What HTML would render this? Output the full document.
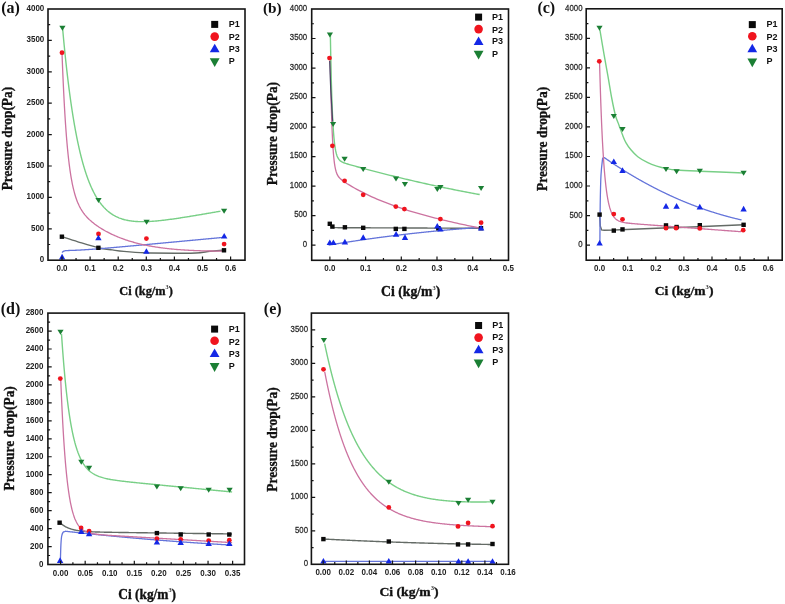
<!DOCTYPE html>
<html><head><meta charset="utf-8"><style>
html,body{margin:0;padding:0;background:#fff;}
svg{display:block;filter:blur(0.3px);}
.tl{font-family:"Liberation Sans",Arial,sans-serif;font-size:8.7px;font-weight:bold;fill:#222;}
.tlr{font-family:"Liberation Sans",Arial,sans-serif;font-size:8.5px;fill:#2a2a2a;stroke:#2a2a2a;stroke-width:0.25px;}
.lg{font-family:"Liberation Sans",Arial,sans-serif;font-size:9px;font-weight:bold;fill:#111;}
.pl{font-family:"Liberation Serif","Times New Roman",serif;font-size:15px;font-weight:bold;fill:#111;}
.al{font-family:"Liberation Serif","Times New Roman",serif;font-size:12.5px;font-weight:bold;fill:#111;stroke:#111;stroke-width:0.35px;}
.sup{font-size:6.5px;stroke-width:0;fill:#333;}
</style></head><body>
<svg width="785" height="604" viewBox="0 0 785 604">
<rect width="785" height="604" fill="#fff"/>
<g><path d="M61.90 236.70 C64.57 237.55 71.83 239.97 77.90 241.80 C83.97 243.63 92.57 246.35 98.30 247.70 C104.03 249.05 108.05 249.28 112.30 249.90 C116.55 250.52 118.35 250.92 123.80 251.40 C129.25 251.88 136.47 252.50 145.00 252.80 C153.53 253.10 166.50 253.17 175.00 253.20 C183.50 253.23 190.17 253.32 196.00 253.00 C201.83 252.68 205.67 251.75 210.00 251.30 C214.33 250.85 220.00 250.47 222.00 250.30" fill="none" stroke="#646b66" stroke-width="1.4"/><path d="M62.08 252.53 L62.35 252.19 L62.66 251.88 L63.00 251.60 L63.36 251.37 L63.76 251.17 L64.17 251.01 L64.59 250.89 L65.01 250.80 L65.44 250.73 L65.88 250.67 L66.31 250.63 L66.75 250.60 L67.19 250.57 L67.63 250.55 L68.06 250.53 L68.50 250.51 L68.94 250.49 L69.37 250.48 L69.81 250.47 L70.25 250.45 L70.69 250.44 L71.12 250.43 L71.56 250.41 L72.00 250.40 L72.44 250.38 L72.87 250.37 L73.31 250.35 L73.75 250.34 L74.19 250.32 L74.62 250.30 L75.06 250.28 L75.50 250.26 L75.94 250.25 L76.37 250.23 L76.81 250.21 L77.25 250.19 L77.68 250.17 L78.12 250.14 L78.56 250.12 L79.00 250.10 L79.43 250.08 L79.87 250.05 L80.31 250.03 L80.74 250.01 L81.18 249.98 L81.62 249.96 L82.06 249.93 L82.49 249.91 L82.93 249.88 L83.37 249.86 L83.80 249.83 L84.24 249.80 L84.68 249.77 L85.11 249.75 L85.55 249.72 L85.99 249.69 L86.42 249.66 L86.86 249.63 L87.30 249.61 L87.73 249.58 L88.17 249.55 L88.61 249.52 L89.04 249.49 L89.48 249.46 L89.92 249.43 L90.35 249.40 L90.79 249.36 L91.23 249.33 L91.66 249.30 L92.10 249.27 L92.54 249.24 L92.97 249.21 L93.41 249.17 L93.85 249.14 L94.28 249.11 L94.72 249.08 L95.16 249.04 L95.59 249.01 L96.03 248.98 L96.47 248.94 L96.90 248.91 L97.34 248.87 L97.77 248.84 L98.21 248.81 L98.65 248.77 L99.08 248.74 L99.52 248.70 L99.96 248.67 L100.39 248.63 L100.83 248.60 L101.26 248.56 L101.70 248.53 L102.14 248.49 L102.57 248.46 L103.01 248.42 L103.45 248.38 L103.88 248.35 L104.32 248.31 L104.75 248.28 L105.19 248.24 L105.63 248.20 L106.06 248.17 L106.50 248.13 L106.94 248.09 L107.37 248.06 L107.81 248.02 L108.24 247.98 L108.68 247.95 L109.12 247.91 L109.55 247.87 L109.99 247.83 L110.42 247.80 L110.86 247.76 L111.30 247.72 L111.73 247.68 L112.17 247.65 L112.60 247.61 L113.04 247.57 L113.48 247.53 L113.91 247.49 L114.35 247.46 L114.78 247.42 L115.22 247.38 L115.66 247.34 L116.09 247.30 L116.53 247.26 L116.96 247.23 L117.40 247.19 L117.84 247.15 L118.27 247.11 L118.71 247.07 L119.14 247.03 L119.58 246.99 L120.02 246.96 L120.45 246.92 L120.89 246.88 L121.32 246.84 L121.76 246.80 L122.20 246.76 L122.63 246.72 L123.07 246.68 L123.50 246.64 L123.94 246.60 L124.38 246.57 L124.81 246.53 L125.25 246.49 L125.68 246.45 L126.12 246.41 L126.56 246.37 L126.99 246.33 L127.43 246.29 L127.86 246.25 L128.30 246.21 L128.74 246.17 L129.17 246.13 L129.61 246.09 L130.04 246.05 L130.48 246.01 L130.91 245.97 L131.35 245.93 L131.79 245.89 L132.22 245.85 L132.66 245.82 L133.09 245.78 L133.53 245.74 L133.97 245.70 L134.40 245.66 L134.84 245.62 L135.27 245.58 L135.71 245.54 L136.15 245.50 L136.58 245.46 L137.02 245.42 L137.45 245.38 L137.89 245.34 L138.32 245.30 L138.76 245.26 L139.20 245.22 L139.63 245.18 L140.07 245.14 L140.50 245.10 L140.94 245.06 L141.38 245.02 L141.81 244.98 L142.25 244.94 L142.68 244.90 L143.12 244.86 L143.56 244.82 L143.99 244.77 L144.43 244.73 L144.86 244.69 L145.30 244.65 L145.73 244.61 L146.17 244.57 L146.61 244.53 L147.04 244.49 L147.48 244.45 L147.91 244.41 L148.35 244.37 L148.79 244.33 L149.22 244.29 L149.66 244.25 L150.09 244.21 L150.53 244.17 L150.96 244.13 L151.40 244.09 L151.84 244.05 L152.27 244.01 L152.71 243.97 L153.14 243.93 L153.58 243.89 L154.02 243.85 L154.45 243.81 L154.89 243.77 L155.32 243.73 L155.76 243.69 L156.19 243.65 L156.63 243.60 L157.07 243.56 L157.50 243.52 L157.94 243.48 L158.37 243.44 L158.81 243.40 L159.24 243.36 L159.68 243.32 L160.12 243.28 L160.55 243.24 L160.99 243.20 L161.42 243.16 L161.86 243.12 L162.30 243.08 L162.73 243.04 L163.17 243.00 L163.60 242.96 L164.04 242.92 L164.47 242.88 L164.91 242.83 L165.35 242.79 L165.78 242.75 L166.22 242.71 L166.65 242.67 L167.09 242.63 L167.53 242.59 L167.96 242.55 L168.40 242.51 L168.83 242.47 L169.27 242.43 L169.70 242.39 L170.14 242.35 L170.58 242.31 L171.01 242.27 L171.45 242.23 L171.88 242.18 L172.32 242.14 L172.75 242.10 L173.19 242.06 L173.63 242.02 L174.06 241.98 L174.50 241.94 L174.93 241.90 L175.37 241.86 L175.81 241.82 L176.24 241.78 L176.68 241.74 L177.11 241.70 L177.55 241.66 L177.98 241.62 L178.42 241.58 L178.86 241.53 L179.29 241.49 L179.73 241.45 L180.16 241.41 L180.60 241.37 L181.04 241.33 L181.47 241.29 L181.91 241.25 L182.34 241.21 L182.78 241.17 L183.21 241.13 L183.65 241.09 L184.09 241.05 L184.52 241.01 L184.96 240.97 L185.39 240.92 L185.83 240.88 L186.26 240.84 L186.70 240.80 L187.14 240.76 L187.57 240.72 L188.01 240.68 L188.44 240.64 L188.88 240.60 L189.32 240.56 L189.75 240.52 L190.19 240.48 L190.62 240.44 L191.06 240.40 L191.49 240.35 L191.93 240.31 L192.37 240.27 L192.80 240.23 L193.24 240.19 L193.67 240.15 L194.11 240.11 L194.54 240.07 L194.98 240.03 L195.42 239.99 L195.85 239.95 L196.29 239.91 L196.72 239.87 L197.16 239.83 L197.60 239.78 L198.03 239.74 L198.47 239.70 L198.90 239.66 L199.34 239.62 L199.77 239.58 L200.21 239.54 L200.65 239.50 L201.08 239.46 L201.52 239.42 L201.95 239.38 L202.39 239.34 L202.83 239.30 L203.26 239.26 L203.70 239.21 L204.13 239.17 L204.57 239.13 L205.00 239.09 L205.44 239.05 L205.88 239.01 L206.31 238.97 L206.75 238.93 L207.18 238.89 L207.62 238.85 L208.05 238.81 L208.49 238.77 L208.93 238.73 L209.36 238.69 L209.80 238.64 L210.23 238.60 L210.67 238.56 L211.11 238.52 L211.54 238.48 L211.98 238.44 L212.41 238.40 L212.85 238.36 L213.28 238.32 L213.72 238.28 L214.16 238.24 L214.59 238.20 L215.03 238.16 L215.46 238.12 L215.90 238.07 L216.33 238.03 L216.77 237.99 L217.21 237.95 L217.64 237.91 L218.08 237.87 L218.51 237.83 L218.95 237.79 L219.39 237.75 L219.82 237.71 L220.26 237.67 L220.69 237.63 L221.13 237.59 L221.56 237.55 L222.00 237.50" fill="none" stroke="#6474da" stroke-width="1.3"/><path d="M61.99 52.40 L62.02 53.45 L62.06 54.50 L62.10 55.55 L62.14 56.60 L62.18 57.64 L62.22 58.69 L62.26 59.74 L62.30 60.79 L62.34 61.84 L62.39 62.88 L62.43 63.93 L62.47 64.98 L62.51 66.03 L62.55 67.08 L62.60 68.13 L62.64 69.17 L62.68 70.22 L62.73 71.27 L62.77 72.32 L62.82 73.37 L62.86 74.41 L62.91 75.46 L62.95 76.51 L63.00 77.56 L63.04 78.60 L63.09 79.65 L63.14 80.70 L63.19 81.75 L63.23 82.80 L63.28 83.84 L63.33 84.89 L63.38 85.94 L63.43 86.99 L63.48 88.03 L63.53 89.08 L63.58 90.13 L63.63 91.18 L63.68 92.22 L63.74 93.27 L63.79 94.32 L63.84 95.37 L63.90 96.41 L63.95 97.46 L64.01 98.51 L64.06 99.56 L64.12 100.60 L64.17 101.65 L64.23 102.70 L64.29 103.75 L64.34 104.79 L64.40 105.84 L64.46 106.89 L64.52 107.94 L64.58 108.98 L64.64 110.03 L64.71 111.08 L64.77 112.12 L64.83 113.17 L64.90 114.22 L64.96 115.26 L65.02 116.31 L65.09 117.36 L65.16 118.40 L65.22 119.45 L65.29 120.50 L65.36 121.54 L65.43 122.59 L65.50 123.64 L65.57 124.68 L65.65 125.73 L65.72 126.78 L65.79 127.82 L65.87 128.87 L65.95 129.92 L66.02 130.96 L66.10 132.01 L66.18 133.05 L66.26 134.10 L66.34 135.14 L66.42 136.19 L66.51 137.24 L66.59 138.28 L66.68 139.33 L66.77 140.37 L66.86 141.42 L66.94 142.46 L67.04 143.51 L67.13 144.55 L67.22 145.60 L67.32 146.64 L67.42 147.69 L67.51 148.73 L67.62 149.77 L67.72 150.82 L67.82 151.86 L67.93 152.90 L68.03 153.95 L68.14 154.99 L68.25 156.03 L68.37 157.08 L68.48 158.12 L68.60 159.16 L68.72 160.20 L68.84 161.25 L68.97 162.29 L69.10 163.33 L69.22 164.37 L69.36 165.41 L69.49 166.45 L69.63 167.49 L69.77 168.53 L69.92 169.57 L70.06 170.61 L70.22 171.64 L70.37 172.68 L70.53 173.72 L70.69 174.75 L70.86 175.79 L71.03 176.82 L71.20 177.86 L71.38 178.89 L71.57 179.92 L71.76 180.96 L71.95 181.99 L72.16 183.02 L72.36 184.04 L72.58 185.07 L72.80 186.10 L73.02 187.12 L73.26 188.14 L73.50 189.16 L73.75 190.18 L74.01 191.20 L74.27 192.21 L74.55 193.23 L74.84 194.23 L75.13 195.24 L75.44 196.24 L75.76 197.24 L76.09 198.24 L76.44 199.23 L76.80 200.21 L77.17 201.19 L77.56 202.17 L77.97 203.13 L78.39 204.09 L78.83 205.05 L79.28 205.99 L79.76 206.93 L80.25 207.85 L80.76 208.77 L81.30 209.67 L81.85 210.56 L82.42 211.44 L83.02 212.31 L83.63 213.16 L84.26 213.99 L84.91 214.82 L85.58 215.62 L86.27 216.41 L86.98 217.19 L87.70 217.95 L88.44 218.70 L89.19 219.43 L89.96 220.14 L90.74 220.84 L91.53 221.53 L92.33 222.21 L93.14 222.87 L93.97 223.52 L94.80 224.15 L95.64 224.78 L96.50 225.39 L97.35 225.99 L98.22 226.58 L99.09 227.17 L99.97 227.74 L100.86 228.30 L101.75 228.85 L102.65 229.39 L103.56 229.92 L104.47 230.44 L105.38 230.95 L106.30 231.46 L107.23 231.95 L108.16 232.44 L109.09 232.91 L110.03 233.38 L110.97 233.84 L111.92 234.29 L112.87 234.74 L113.82 235.17 L114.78 235.60 L115.74 236.02 L116.71 236.43 L117.68 236.83 L118.65 237.23 L119.62 237.61 L120.60 237.99 L121.58 238.36 L122.57 238.73 L123.55 239.08 L124.54 239.43 L125.53 239.78 L126.53 240.11 L127.52 240.44 L128.52 240.76 L129.52 241.07 L130.53 241.38 L131.53 241.68 L132.54 241.97 L133.55 242.25 L134.56 242.53 L135.57 242.81 L136.59 243.07 L137.60 243.33 L138.62 243.59 L139.64 243.83 L140.66 244.08 L141.68 244.31 L142.71 244.54 L143.73 244.77 L144.76 244.99 L145.78 245.20 L146.81 245.41 L147.84 245.61 L148.87 245.81 L149.90 246.00 L150.93 246.19 L151.97 246.37 L153.00 246.55 L154.03 246.72 L155.07 246.89 L156.11 247.05 L157.14 247.21 L158.18 247.36 L159.22 247.51 L160.26 247.66 L161.30 247.80 L162.34 247.94 L163.38 248.07 L164.42 248.20 L165.46 248.33 L166.50 248.45 L167.54 248.57 L168.59 248.68 L169.63 248.79 L170.67 248.90 L171.72 249.00 L172.76 249.10 L173.80 249.20 L174.85 249.30 L175.89 249.39 L176.94 249.48 L177.98 249.56 L179.03 249.64 L180.08 249.72 L181.12 249.80 L182.17 249.87 L183.21 249.94 L184.26 250.01 L185.31 250.07 L186.36 250.14 L187.40 250.20 L188.45 250.26 L189.50 250.31 L190.54 250.36 L191.59 250.42 L192.64 250.46 L193.69 250.51 L194.74 250.56 L195.78 250.60 L196.83 250.64 L197.88 250.68 L198.93 250.71 L199.98 250.75 L201.03 250.78 L202.07 250.81 L203.12 250.84 L204.17 250.87 L205.22 250.89 L206.27 250.91 L207.32 250.94 L208.37 250.96 L209.41 250.98 L210.46 250.99 L211.51 251.01 L212.56 251.02 L213.61 251.04 L214.66 251.05 L215.71 251.06 L216.76 251.07 L217.80 251.07 L218.85 251.08 L219.90 251.08 L220.95 251.09 L222.00 251.09" fill="none" stroke="#cc73a0" stroke-width="1.3"/><path d="M62.53 27.58 L62.61 28.45 L62.68 29.31 L62.76 30.18 L62.84 31.05 L62.92 31.92 L63.00 32.79 L63.08 33.66 L63.16 34.53 L63.24 35.40 L63.32 36.26 L63.40 37.13 L63.48 38.00 L63.56 38.87 L63.65 39.74 L63.73 40.61 L63.81 41.47 L63.89 42.34 L63.98 43.21 L64.06 44.08 L64.15 44.95 L64.23 45.82 L64.32 46.68 L64.40 47.55 L64.49 48.42 L64.57 49.29 L64.66 50.16 L64.75 51.02 L64.84 51.89 L64.93 52.76 L65.01 53.63 L65.10 54.49 L65.19 55.36 L65.28 56.23 L65.37 57.10 L65.46 57.97 L65.56 58.83 L65.65 59.70 L65.74 60.57 L65.83 61.43 L65.93 62.30 L66.02 63.17 L66.12 64.04 L66.21 64.90 L66.31 65.77 L66.40 66.64 L66.50 67.50 L66.60 68.37 L66.69 69.24 L66.79 70.11 L66.89 70.97 L66.99 71.84 L67.09 72.70 L67.19 73.57 L67.29 74.44 L67.39 75.30 L67.49 76.17 L67.60 77.04 L67.70 77.90 L67.80 78.77 L67.91 79.64 L68.01 80.50 L68.12 81.37 L68.23 82.23 L68.33 83.10 L68.44 83.96 L68.55 84.83 L68.66 85.69 L68.77 86.56 L68.88 87.43 L68.99 88.29 L69.10 89.16 L69.21 90.02 L69.33 90.89 L69.44 91.75 L69.55 92.62 L69.67 93.48 L69.79 94.34 L69.90 95.21 L70.02 96.07 L70.14 96.94 L70.26 97.80 L70.38 98.67 L70.50 99.53 L70.62 100.39 L70.74 101.26 L70.86 102.12 L70.99 102.98 L71.11 103.85 L71.24 104.71 L71.37 105.57 L71.49 106.44 L71.62 107.30 L71.75 108.16 L71.88 109.02 L72.01 109.89 L72.14 110.75 L72.28 111.61 L72.41 112.47 L72.55 113.33 L72.68 114.20 L72.82 115.06 L72.96 115.92 L73.10 116.78 L73.24 117.64 L73.38 118.50 L73.52 119.36 L73.66 120.22 L73.81 121.08 L73.95 121.94 L74.10 122.80 L74.25 123.66 L74.40 124.52 L74.55 125.38 L74.70 126.24 L74.85 127.10 L75.01 127.96 L75.16 128.82 L75.32 129.67 L75.48 130.53 L75.64 131.39 L75.80 132.25 L75.96 133.10 L76.13 133.96 L76.29 134.82 L76.46 135.67 L76.63 136.53 L76.80 137.38 L76.97 138.24 L77.14 139.09 L77.32 139.95 L77.49 140.80 L77.67 141.66 L77.85 142.51 L78.03 143.36 L78.22 144.22 L78.40 145.07 L78.59 145.92 L78.78 146.77 L78.97 147.62 L79.16 148.48 L79.35 149.33 L79.55 150.18 L79.75 151.02 L79.95 151.87 L80.15 152.72 L80.36 153.57 L80.57 154.42 L80.78 155.26 L80.99 156.11 L81.20 156.96 L81.42 157.80 L81.64 158.64 L81.86 159.49 L82.08 160.33 L82.31 161.17 L82.54 162.02 L82.77 162.86 L83.01 163.70 L83.25 164.53 L83.49 165.37 L83.73 166.21 L83.98 167.05 L84.23 167.88 L84.48 168.72 L84.74 169.55 L85.00 170.38 L85.26 171.22 L85.53 172.05 L85.80 172.87 L86.08 173.70 L86.35 174.53 L86.64 175.35 L86.92 176.18 L87.21 177.00 L87.51 177.82 L87.81 178.64 L88.11 179.46 L88.42 180.27 L88.73 181.09 L89.05 181.90 L89.37 182.71 L89.70 183.52 L90.04 184.33 L90.37 185.13 L90.72 185.93 L91.07 186.73 L91.42 187.53 L91.79 188.32 L92.15 189.11 L92.53 189.90 L92.91 190.68 L93.30 191.47 L93.69 192.24 L94.09 193.02 L94.50 193.79 L94.92 194.55 L95.34 195.32 L95.77 196.08 L96.21 196.83 L96.66 197.58 L97.12 198.32 L97.58 199.06 L98.06 199.79 L98.54 200.51 L99.04 201.23 L99.54 201.95 L100.05 202.65 L100.58 203.35 L101.11 204.04 L101.65 204.72 L102.21 205.39 L102.78 206.06 L103.35 206.71 L103.94 207.36 L104.54 207.99 L105.15 208.61 L105.77 209.23 L106.41 209.82 L107.05 210.41 L107.71 210.99 L108.38 211.55 L109.05 212.09 L109.75 212.63 L110.45 213.14 L111.16 213.65 L111.88 214.13 L112.62 214.61 L113.36 215.06 L114.12 215.50 L114.88 215.92 L115.65 216.33 L116.43 216.72 L117.22 217.09 L118.02 217.45 L118.82 217.79 L119.63 218.11 L120.45 218.41 L121.27 218.70 L122.10 218.98 L122.93 219.23 L123.77 219.47 L124.61 219.70 L125.46 219.91 L126.31 220.11 L127.16 220.29 L128.02 220.46 L128.87 220.62 L129.74 220.76 L130.60 220.90 L131.46 221.01 L132.33 221.12 L133.19 221.22 L134.06 221.31 L134.93 221.38 L135.80 221.45 L136.67 221.50 L137.54 221.55 L138.41 221.59 L139.29 221.62 L140.16 221.64 L141.03 221.66 L141.90 221.66 L142.77 221.66 L143.65 221.66 L144.52 221.64 L145.39 221.63 L146.26 221.60 L147.13 221.57 L148.01 221.53 L148.88 221.49 L149.75 221.45 L150.62 221.40 L151.49 221.34 L152.36 221.28 L153.23 221.22 L154.10 221.15 L154.97 221.08 L155.84 221.00 L156.71 220.93 L157.58 220.84 L158.44 220.76 L159.31 220.67 L160.18 220.58 L161.05 220.49 L161.91 220.39 L162.78 220.29 L163.65 220.19 L164.51 220.09 L165.38 219.99 L166.24 219.88 L167.11 219.77 L167.97 219.66 L168.84 219.54 L169.70 219.43 L170.57 219.31 L171.43 219.20 L172.30 219.08 L173.16 218.95 L174.02 218.83 L174.89 218.71 L175.75 218.58 L176.61 218.46 L177.48 218.33 L178.34 218.20 L179.20 218.07 L180.07 217.94 L180.93 217.81 L181.79 217.68 L182.65 217.54 L183.51 217.41 L184.38 217.27 L185.24 217.14 L186.10 217.00 L186.96 216.86 L187.82 216.73 L188.68 216.59 L189.54 216.45 L190.40 216.31 L191.27 216.17 L192.13 216.03 L192.99 215.89 L193.85 215.74 L194.71 215.60 L195.57 215.46 L196.43 215.31 L197.29 215.17 L198.15 215.03 L199.01 214.88 L199.87 214.74 L200.73 214.59 L201.59 214.44 L202.45 214.30 L203.31 214.15 L204.17 214.01 L205.03 213.86 L205.89 213.71 L206.75 213.56 L207.61 213.42 L208.47 213.27 L209.33 213.12 L210.19 212.97 L211.05 212.82 L211.91 212.67 L212.77 212.52 L213.63 212.37 L214.49 212.23 L215.34 212.08 L216.20 211.93 L217.06 211.78 L217.92 211.63 L218.78 211.48 L219.64 211.33 L220.50 211.17" fill="none" stroke="#78cf86" stroke-width="1.4"/><rect x="59.70" y="234.50" width="4.40" height="4.40" fill="#0a0a0a"/><rect x="96.20" y="245.60" width="4.40" height="4.40" fill="#0a0a0a"/><rect x="221.80" y="248.10" width="4.40" height="4.40" fill="#0a0a0a"/><circle cx="62.00" cy="52.70" r="2.40" fill="#f0141e"/><circle cx="98.50" cy="233.90" r="2.40" fill="#f0141e"/><circle cx="146.40" cy="238.60" r="2.40" fill="#f0141e"/><circle cx="224.10" cy="244.10" r="2.40" fill="#f0141e"/><polygon points="62.10,253.80 58.90,259.40 65.30,259.40" fill="#1428e6"/><polygon points="98.40,234.70 95.20,240.30 101.60,240.30" fill="#1428e6"/><polygon points="146.40,248.20 143.20,253.80 149.60,253.80" fill="#1428e6"/><polygon points="224.20,232.90 221.00,238.50 227.40,238.50" fill="#1428e6"/><polygon points="59.30,25.70 65.50,25.70 62.40,30.70" fill="#1b7f34"/><polygon points="95.40,198.00 101.60,198.00 98.50,203.00" fill="#1b7f34"/><polygon points="143.50,219.70 149.70,219.70 146.60,224.70" fill="#1b7f34"/><polygon points="221.00,208.70 227.20,208.70 224.10,213.70" fill="#1b7f34"/><rect x="48.00" y="9.00" width="197.00" height="251.20" fill="none" stroke="#151515" stroke-width="1.6"/><path d="M48.00 228.80h3.8M48.00 197.40h3.8M48.00 166.00h3.8M48.00 134.60h3.8M48.00 103.20h3.8M48.00 71.80h3.8M48.00 40.40h3.8M48.00 244.50h2.2M48.00 213.10h2.2M48.00 181.70h2.2M48.00 150.30h2.2M48.00 118.90h2.2M48.00 87.50h2.2M48.00 56.10h2.2M48.00 24.70h2.2M62.00 260.20v-3.8M90.10 260.20v-3.8M118.20 260.20v-3.8M146.30 260.20v-3.8M174.40 260.20v-3.8M202.50 260.20v-3.8M230.60 260.20v-3.8M76.05 260.20v-2.2M104.15 260.20v-2.2M132.25 260.20v-2.2M160.35 260.20v-2.2M188.45 260.20v-2.2M216.55 260.20v-2.2" stroke="#151515" stroke-width="1.2" fill="none"/><text transform="translate(44.30 262.20) scale(0.92 1)" class="tl" text-anchor="end">0</text><text transform="translate(44.30 230.80) scale(0.92 1)" class="tl" text-anchor="end">500</text><text transform="translate(44.30 199.40) scale(0.92 1)" class="tl" text-anchor="end">1000</text><text transform="translate(44.30 168.00) scale(0.92 1)" class="tl" text-anchor="end">1500</text><text transform="translate(44.30 136.60) scale(0.92 1)" class="tl" text-anchor="end">2000</text><text transform="translate(44.30 105.20) scale(0.92 1)" class="tl" text-anchor="end">2500</text><text transform="translate(44.30 73.80) scale(0.92 1)" class="tl" text-anchor="end">3000</text><text transform="translate(44.30 42.40) scale(0.92 1)" class="tl" text-anchor="end">3500</text><text transform="translate(44.30 11.00) scale(0.92 1)" class="tl" text-anchor="end">4000</text><text transform="translate(62.00 271.20) scale(0.92 1)" class="tl" text-anchor="middle">0.0</text><text transform="translate(90.10 271.20) scale(0.92 1)" class="tl" text-anchor="middle">0.1</text><text transform="translate(118.20 271.20) scale(0.92 1)" class="tl" text-anchor="middle">0.2</text><text transform="translate(146.30 271.20) scale(0.92 1)" class="tl" text-anchor="middle">0.3</text><text transform="translate(174.40 271.20) scale(0.92 1)" class="tl" text-anchor="middle">0.4</text><text transform="translate(202.50 271.20) scale(0.92 1)" class="tl" text-anchor="middle">0.5</text><text transform="translate(230.60 271.20) scale(0.92 1)" class="tl" text-anchor="middle">0.6</text><text x="1.20" y="12.80" class="pl" style="font-size:16px">(a)</text><text transform="translate(12.40 138.60) rotate(-90)" class="al" style="font-size:14.5px" text-anchor="middle" textLength="103.5" lengthAdjust="spacingAndGlyphs">Pressure drop(Pa)</text><text x="119.30" y="295.40" class="al" style="font-size:13px" textLength="53.5" lengthAdjust="spacingAndGlyphs">Ci (kg/m<tspan class="sup" dy="-6.5">3</tspan><tspan dy="6.5">)</tspan></text><rect x="211.20" y="20.90" width="7.00" height="7.00" fill="#0a0a0a"/><text x="228.80" y="26.90" class="lg">P1</text><circle cx="214.70" cy="36.60" r="4.30" fill="#f0141e"/><text x="228.80" y="39.80" class="lg">P2</text><polygon points="214.70,43.80 209.80,52.20 219.60,52.20" fill="#1428e6"/><text x="228.80" y="51.70" class="lg">P3</text><polygon points="209.80,58.20 219.60,58.20 214.70,67.00" fill="#1b7f34"/><text x="228.80" y="64.40" class="lg">P</text></g>
<g><path d="M329.85 223.95 L330.01 224.41 L330.19 224.86 L330.40 225.30 L330.64 225.72 L330.92 226.12 L331.25 226.48 L331.62 226.79 L332.04 227.04 L332.49 227.23 L332.95 227.37 L333.43 227.47 L333.91 227.53 L334.39 227.58 L334.88 227.61 L335.37 227.63 L335.85 227.65 L336.34 227.66 L336.82 227.67 L337.31 227.67 L337.80 227.68 L338.28 227.68 L338.77 227.68 L339.25 227.69 L339.74 227.69 L340.23 227.69 L340.71 227.69 L341.20 227.70 L341.68 227.70 L342.17 227.70 L342.66 227.70 L343.14 227.71 L343.63 227.71 L344.11 227.71 L344.60 227.71 L345.09 227.71 L345.57 227.72 L346.06 227.72 L346.54 227.72 L347.03 227.72 L347.52 227.72 L348.00 227.73 L348.49 227.73 L348.97 227.73 L349.46 227.73 L349.95 227.74 L350.43 227.74 L350.92 227.74 L351.41 227.74 L351.89 227.74 L352.38 227.75 L352.86 227.75 L353.35 227.75 L353.84 227.75 L354.32 227.75 L354.81 227.76 L355.29 227.76 L355.78 227.76 L356.27 227.76 L356.75 227.76 L357.24 227.77 L357.72 227.77 L358.21 227.77 L358.70 227.77 L359.18 227.78 L359.67 227.78 L360.15 227.78 L360.64 227.78 L361.13 227.78 L361.61 227.79 L362.10 227.79 L362.58 227.79 L363.07 227.79 L363.56 227.79 L364.04 227.80 L364.53 227.80 L365.02 227.80 L365.50 227.80 L365.99 227.81 L366.47 227.81 L366.96 227.81 L367.45 227.81 L367.93 227.81 L368.42 227.82 L368.90 227.82 L369.39 227.82 L369.88 227.82 L370.36 227.82 L370.85 227.83 L371.33 227.83 L371.82 227.83 L372.31 227.83 L372.79 227.84 L373.28 227.84 L373.76 227.84 L374.25 227.84 L374.74 227.84 L375.22 227.85 L375.71 227.85 L376.19 227.85 L376.68 227.85 L377.17 227.85 L377.65 227.86 L378.14 227.86 L378.63 227.86 L379.11 227.86 L379.60 227.87 L380.08 227.87 L380.57 227.87 L381.06 227.87 L381.54 227.87 L382.03 227.88 L382.51 227.88 L383.00 227.88 L383.49 227.88 L383.97 227.88 L384.46 227.89 L384.94 227.89 L385.43 227.89 L385.92 227.89 L386.40 227.89 L386.89 227.90 L387.37 227.90 L387.86 227.90 L388.35 227.90 L388.83 227.91 L389.32 227.91 L389.80 227.91 L390.29 227.91 L390.78 227.91 L391.26 227.92 L391.75 227.92 L392.24 227.92 L392.72 227.92 L393.21 227.92 L393.69 227.93 L394.18 227.93 L394.67 227.93 L395.15 227.93 L395.64 227.94 L396.12 227.94 L396.61 227.94 L397.10 227.94 L397.58 227.94 L398.07 227.95 L398.55 227.95 L399.04 227.95 L399.53 227.95 L400.01 227.95 L400.50 227.96 L400.98 227.96 L401.47 227.96 L401.96 227.96 L402.44 227.97 L402.93 227.97 L403.41 227.97 L403.90 227.97 L404.39 227.97 L404.87 227.98 L405.36 227.98 L405.85 227.98 L406.33 227.98 L406.82 227.98 L407.30 227.99 L407.79 227.99 L408.28 227.99 L408.76 227.99 L409.25 228.00 L409.73 228.00 L410.22 228.00 L410.71 228.00 L411.19 228.00 L411.68 228.01 L412.16 228.01 L412.65 228.01 L413.14 228.01 L413.62 228.01 L414.11 228.02 L414.59 228.02 L415.08 228.02 L415.57 228.02 L416.05 228.03 L416.54 228.03 L417.02 228.03 L417.51 228.03 L418.00 228.03 L418.48 228.04 L418.97 228.04 L419.46 228.04 L419.94 228.04 L420.43 228.04 L420.91 228.05 L421.40 228.05 L421.89 228.05 L422.37 228.05 L422.86 228.05 L423.34 228.06 L423.83 228.06 L424.32 228.06 L424.80 228.06 L425.29 228.07 L425.77 228.07 L426.26 228.07 L426.75 228.07 L427.23 228.07 L427.72 228.08 L428.20 228.08 L428.69 228.08 L429.18 228.08 L429.66 228.08 L430.15 228.09 L430.63 228.09 L431.12 228.09 L431.61 228.09 L432.09 228.10 L432.58 228.10 L433.07 228.10 L433.55 228.10 L434.04 228.10 L434.52 228.11 L435.01 228.11 L435.50 228.11 L435.98 228.11 L436.47 228.11 L436.95 228.12 L437.44 228.12 L437.93 228.12 L438.41 228.12 L438.90 228.13 L439.38 228.13 L439.87 228.13 L440.36 228.13 L440.84 228.13 L441.33 228.14 L441.81 228.14 L442.30 228.14 L442.79 228.14 L443.27 228.14 L443.76 228.15 L444.24 228.15 L444.73 228.15 L445.22 228.15 L445.70 228.16 L446.19 228.16 L446.68 228.16 L447.16 228.16 L447.65 228.16 L448.13 228.17 L448.62 228.17 L449.11 228.17 L449.59 228.17 L450.08 228.17 L450.56 228.18 L451.05 228.18 L451.54 228.18 L452.02 228.18 L452.51 228.19 L452.99 228.19 L453.48 228.19 L453.97 228.19 L454.45 228.19 L454.94 228.20 L455.42 228.20 L455.91 228.20 L456.40 228.20 L456.88 228.20 L457.37 228.21 L457.85 228.21 L458.34 228.21 L458.83 228.21 L459.31 228.21 L459.80 228.22 L460.29 228.22 L460.77 228.22 L461.26 228.22 L461.74 228.23 L462.23 228.23 L462.72 228.23 L463.20 228.23 L463.69 228.23 L464.17 228.24 L464.66 228.24 L465.15 228.24 L465.63 228.24 L466.12 228.24 L466.60 228.25 L467.09 228.25 L467.58 228.25 L468.06 228.25 L468.55 228.26 L469.03 228.26 L469.52 228.26 L470.01 228.26 L470.49 228.26 L470.98 228.27 L471.46 228.27 L471.95 228.27 L472.44 228.27 L472.92 228.27 L473.41 228.28 L473.90 228.28 L474.38 228.28 L474.87 228.28 L475.35 228.29 L475.84 228.29 L476.33 228.29 L476.81 228.29 L477.30 228.29 L477.78 228.30 L478.27 228.30 L478.76 228.30 L479.24 228.30 L479.73 228.30 L480.21 228.31 L480.70 228.31" fill="none" stroke="#646b66" stroke-width="1.4"/><path d="M328.59 245.15 L328.98 245.08 L329.36 245.02 L329.75 244.95 L330.14 244.89 L330.52 244.82 L330.91 244.76 L331.30 244.69 L331.68 244.63 L332.07 244.57 L332.46 244.50 L332.84 244.44 L333.23 244.37 L333.62 244.31 L334.00 244.25 L334.39 244.18 L334.78 244.12 L335.16 244.06 L335.55 243.99 L335.94 243.93 L336.32 243.87 L336.71 243.81 L337.10 243.74 L337.48 243.68 L337.87 243.62 L338.26 243.56 L338.64 243.49 L339.03 243.43 L339.42 243.37 L339.80 243.31 L340.19 243.24 L340.58 243.18 L340.96 243.12 L341.35 243.06 L341.74 243.00 L342.13 242.94 L342.51 242.87 L342.90 242.81 L343.29 242.75 L343.67 242.69 L344.06 242.63 L344.45 242.57 L344.84 242.51 L345.22 242.45 L345.61 242.39 L346.00 242.33 L346.38 242.27 L346.77 242.21 L347.16 242.15 L347.55 242.09 L347.93 242.03 L348.32 241.97 L348.71 241.91 L349.09 241.85 L349.48 241.79 L349.87 241.73 L350.26 241.67 L350.64 241.61 L351.03 241.55 L351.42 241.49 L351.81 241.43 L352.19 241.37 L352.58 241.32 L352.97 241.26 L353.36 241.20 L353.74 241.14 L354.13 241.08 L354.52 241.02 L354.91 240.97 L355.29 240.91 L355.68 240.85 L356.07 240.79 L356.46 240.73 L356.84 240.68 L357.23 240.62 L357.62 240.56 L358.01 240.50 L358.39 240.45 L358.78 240.39 L359.17 240.33 L359.56 240.28 L359.94 240.22 L360.33 240.16 L360.72 240.11 L361.11 240.05 L361.49 239.99 L361.88 239.94 L362.27 239.88 L362.66 239.82 L363.05 239.77 L363.43 239.71 L363.82 239.66 L364.21 239.60 L364.60 239.54 L364.99 239.49 L365.37 239.43 L365.76 239.38 L366.15 239.32 L366.54 239.27 L366.92 239.21 L367.31 239.16 L367.70 239.10 L368.09 239.05 L368.48 238.99 L368.86 238.94 L369.25 238.88 L369.64 238.83 L370.03 238.78 L370.42 238.72 L370.80 238.67 L371.19 238.61 L371.58 238.56 L371.97 238.51 L372.36 238.45 L372.75 238.40 L373.13 238.35 L373.52 238.29 L373.91 238.24 L374.30 238.19 L374.69 238.13 L375.07 238.08 L375.46 238.03 L375.85 237.97 L376.24 237.92 L376.63 237.87 L377.02 237.82 L377.40 237.76 L377.79 237.71 L378.18 237.66 L378.57 237.61 L378.96 237.56 L379.35 237.50 L379.73 237.45 L380.12 237.40 L380.51 237.35 L380.90 237.30 L381.29 237.25 L381.68 237.20 L382.07 237.14 L382.45 237.09 L382.84 237.04 L383.23 236.99 L383.62 236.94 L384.01 236.89 L384.40 236.84 L384.79 236.79 L385.17 236.74 L385.56 236.69 L385.95 236.64 L386.34 236.59 L386.73 236.54 L387.12 236.49 L387.51 236.44 L387.89 236.39 L388.28 236.34 L388.67 236.29 L389.06 236.24 L389.45 236.19 L389.84 236.14 L390.23 236.09 L390.62 236.04 L391.00 236.00 L391.39 235.95 L391.78 235.90 L392.17 235.85 L392.56 235.80 L392.95 235.75 L393.34 235.70 L393.73 235.66 L394.11 235.61 L394.50 235.56 L394.89 235.51 L395.28 235.46 L395.67 235.42 L396.06 235.37 L396.45 235.32 L396.84 235.27 L397.23 235.23 L397.61 235.18 L398.00 235.13 L398.39 235.09 L398.78 235.04 L399.17 234.99 L399.56 234.95 L399.95 234.90 L400.34 234.85 L400.73 234.81 L401.12 234.76 L401.51 234.71 L401.89 234.67 L402.28 234.62 L402.67 234.58 L403.06 234.53 L403.45 234.48 L403.84 234.44 L404.23 234.39 L404.62 234.35 L405.01 234.30 L405.40 234.26 L405.79 234.21 L406.18 234.17 L406.56 234.12 L406.95 234.08 L407.34 234.03 L407.73 233.99 L408.12 233.94 L408.51 233.90 L408.90 233.85 L409.29 233.81 L409.68 233.77 L410.07 233.72 L410.46 233.68 L410.85 233.63 L411.24 233.59 L411.63 233.55 L412.02 233.50 L412.40 233.46 L412.79 233.42 L413.18 233.37 L413.57 233.33 L413.96 233.29 L414.35 233.25 L414.74 233.20 L415.13 233.16 L415.52 233.12 L415.91 233.07 L416.30 233.03 L416.69 232.99 L417.08 232.95 L417.47 232.91 L417.86 232.86 L418.25 232.82 L418.64 232.78 L419.03 232.74 L419.42 232.70 L419.81 232.65 L420.20 232.61 L420.59 232.57 L420.97 232.53 L421.36 232.49 L421.75 232.45 L422.14 232.41 L422.53 232.37 L422.92 232.33 L423.31 232.29 L423.70 232.25 L424.09 232.20 L424.48 232.16 L424.87 232.12 L425.26 232.08 L425.65 232.04 L426.04 232.00 L426.43 231.96 L426.82 231.92 L427.21 231.88 L427.60 231.85 L427.99 231.81 L428.38 231.77 L428.77 231.73 L429.16 231.69 L429.55 231.65 L429.94 231.61 L430.33 231.57 L430.72 231.53 L431.11 231.49 L431.50 231.46 L431.89 231.42 L432.28 231.38 L432.67 231.34 L433.06 231.30 L433.45 231.26 L433.84 231.23 L434.23 231.19 L434.62 231.15 L435.01 231.11 L435.40 231.08 L435.79 231.04 L436.18 231.00 L436.57 230.96 L436.96 230.93 L437.35 230.89 L437.74 230.85 L438.13 230.82 L438.52 230.78 L438.91 230.74 L439.30 230.71 L439.69 230.67 L440.08 230.63 L440.47 230.60 L440.86 230.56 L441.25 230.52 L441.64 230.49 L442.03 230.45 L442.42 230.42 L442.81 230.38 L443.20 230.34 L443.59 230.31 L443.98 230.27 L444.37 230.24 L444.76 230.20 L445.15 230.17 L445.54 230.13 L445.93 230.10 L446.32 230.06 L446.71 230.03 L447.10 229.99 L447.49 229.96 L447.88 229.93 L448.28 229.89 L448.67 229.86 L449.06 229.82 L449.45 229.79 L449.84 229.75 L450.23 229.72 L450.62 229.69 L451.01 229.65 L451.40 229.62 L451.79 229.59 L452.18 229.55 L452.57 229.52 L452.96 229.49 L453.35 229.45 L453.74 229.42 L454.13 229.39 L454.52 229.36 L454.91 229.32 L455.30 229.29 L455.69 229.26 L456.08 229.23 L456.47 229.19 L456.86 229.16 L457.26 229.13 L457.65 229.10 L458.04 229.07 L458.43 229.03 L458.82 229.00 L459.21 228.97 L459.60 228.94 L459.99 228.91 L460.38 228.88 L460.77 228.85 L461.16 228.81 L461.55 228.78 L461.94 228.75 L462.33 228.72 L462.72 228.69 L463.11 228.66 L463.50 228.63 L463.90 228.60 L464.29 228.57 L464.68 228.54 L465.07 228.51 L465.46 228.48 L465.85 228.45 L466.24 228.42 L466.63 228.39 L467.02 228.36 L467.41 228.33 L467.80 228.30 L468.19 228.27 L468.58 228.24 L468.97 228.21 L469.37 228.18 L469.76 228.16 L470.15 228.13 L470.54 228.10 L470.93 228.07 L471.32 228.04 L471.71 228.01 L472.10 227.98 L472.49 227.96 L472.88 227.93 L473.27 227.90 L473.66 227.87 L474.05 227.84 L474.45 227.82 L474.84 227.79 L475.23 227.76 L475.62 227.73 L476.01 227.71 L476.40 227.68 L476.79 227.65 L477.18 227.62 L477.57 227.60 L477.96 227.57 L478.35 227.54 L478.75 227.52 L479.14 227.49 L479.53 227.46 L479.92 227.44 L480.31 227.41 L480.70 227.39" fill="none" stroke="#6474da" stroke-width="1.3"/><path d="M330.35 57.77 L330.39 60.56 L330.44 63.35 L330.48 66.14 L330.53 68.92 L330.58 71.71 L330.63 74.50 L330.68 77.28 L330.74 80.07 L330.79 82.86 L330.85 85.65 L330.91 88.44 L330.97 91.22 L331.03 94.01 L331.09 96.80 L331.16 99.59 L331.23 102.37 L331.30 105.16 L331.37 107.95 L331.45 110.73 L331.53 113.52 L331.62 116.31 L331.71 119.09 L331.80 121.88 L331.90 124.67 L332.00 127.45 L332.11 130.24 L332.23 133.02 L332.36 135.81 L332.49 138.59 L332.63 141.38 L332.79 144.16 L332.96 146.95 L333.15 149.73 L333.35 152.51 L333.58 155.29 L333.85 158.06 L334.15 160.83 L334.50 163.60 L334.93 166.35 L335.47 169.09 L336.18 171.78 L337.16 174.39 L338.55 176.80 L340.41 178.88 L342.57 180.63 L344.87 182.22 L347.21 183.72 L349.59 185.17 L351.99 186.59 L354.41 187.98 L356.85 189.33 L359.31 190.65 L361.78 191.94 L364.27 193.20 L366.77 194.42 L369.29 195.62 L371.82 196.79 L374.36 197.93 L376.92 199.04 L379.49 200.13 L382.07 201.19 L384.66 202.22 L387.26 203.23 L389.86 204.22 L392.48 205.18 L395.10 206.13 L397.74 207.05 L400.38 207.94 L403.02 208.82 L405.67 209.68 L408.33 210.52 L411.00 211.35 L413.67 212.15 L416.34 212.94 L419.02 213.72 L421.70 214.47 L424.39 215.22 L427.08 215.95 L429.77 216.66 L432.47 217.37 L435.17 218.06 L437.88 218.74 L440.58 219.41 L443.29 220.06 L446.01 220.71 L448.72 221.35 L451.44 221.97 L454.16 222.59 L456.88 223.20 L459.60 223.80 L462.32 224.40 L465.05 224.98 L467.78 225.56 L470.51 226.14 L473.24 226.70 L475.97 227.26 L478.70 227.81" fill="none" stroke="#cc73a0" stroke-width="1.3"/><path d="M330.36 34.60 L330.39 36.60 L330.42 38.59 L330.46 40.58 L330.49 42.58 L330.53 44.57 L330.57 46.57 L330.60 48.56 L330.64 50.56 L330.68 52.55 L330.72 54.55 L330.76 56.54 L330.80 58.54 L330.84 60.53 L330.89 62.53 L330.93 64.52 L330.97 66.52 L331.02 68.51 L331.06 70.50 L331.11 72.50 L331.16 74.50 L331.21 76.49 L331.26 78.48 L331.31 80.48 L331.37 82.47 L331.42 84.47 L331.48 86.46 L331.53 88.45 L331.59 90.45 L331.65 92.44 L331.72 94.44 L331.78 96.43 L331.85 98.43 L331.92 100.42 L331.99 102.41 L332.06 104.41 L332.14 106.40 L332.22 108.39 L332.30 110.39 L332.38 112.38 L332.47 114.37 L332.57 116.37 L332.66 118.36 L332.77 120.35 L332.87 122.34 L332.99 124.33 L333.10 126.33 L333.23 128.32 L333.36 130.31 L333.51 132.30 L333.66 134.29 L333.82 136.28 L334.00 138.26 L334.19 140.25 L334.41 142.23 L334.64 144.21 L334.91 146.19 L335.20 148.16 L335.55 150.13 L335.95 152.08 L336.44 154.02 L337.05 155.91 L337.84 157.74 L338.90 159.43 L340.29 160.86 L341.96 161.94 L343.79 162.75 L345.67 163.40 L347.58 163.99 L349.49 164.56 L351.41 165.10 L353.33 165.64 L355.25 166.18 L357.17 166.71 L359.10 167.24 L361.02 167.76 L362.95 168.29 L364.87 168.81 L366.80 169.32 L368.73 169.84 L370.66 170.35 L372.59 170.86 L374.52 171.36 L376.45 171.87 L378.38 172.37 L380.31 172.86 L382.24 173.36 L384.18 173.85 L386.11 174.34 L388.05 174.83 L389.98 175.31 L391.92 175.79 L393.85 176.27 L395.79 176.74 L397.73 177.22 L399.67 177.69 L401.61 178.15 L403.55 178.62 L405.49 179.08 L407.43 179.54 L409.38 179.99 L411.32 180.44 L413.26 180.89 L415.21 181.34 L417.15 181.79 L419.10 182.23 L421.04 182.67 L422.99 183.10 L424.94 183.54 L426.89 183.97 L428.83 184.40 L430.78 184.82 L432.73 185.24 L434.68 185.66 L436.63 186.08 L438.59 186.49 L440.54 186.90 L442.49 187.31 L444.44 187.72 L446.40 188.12 L448.35 188.52 L450.31 188.92 L452.26 189.31 L454.22 189.71 L456.18 190.10 L458.13 190.48 L460.09 190.87 L462.05 191.25 L464.01 191.62 L465.97 192.00 L467.93 192.37 L469.89 192.74 L471.85 193.11 L473.81 193.47 L475.77 193.84 L477.74 194.19 L479.70 194.55" fill="none" stroke="#78cf86" stroke-width="1.4"/><path d="M329.70 61.00 C329.85 65.00 330.27 77.57 330.60 85.00 C330.93 92.43 331.37 99.52 331.70 105.60 C332.03 111.68 332.45 118.85 332.60 121.50" fill="none" stroke="#4d4466" stroke-width="1.3"/><rect x="327.60" y="221.60" width="4.40" height="4.40" fill="#0a0a0a"/><rect x="330.20" y="224.40" width="4.40" height="4.40" fill="#0a0a0a"/><rect x="342.70" y="225.10" width="4.40" height="4.40" fill="#0a0a0a"/><rect x="361.00" y="225.60" width="4.40" height="4.40" fill="#0a0a0a"/><rect x="393.60" y="226.70" width="4.40" height="4.40" fill="#0a0a0a"/><rect x="402.20" y="226.70" width="4.40" height="4.40" fill="#0a0a0a"/><rect x="436.10" y="226.00" width="4.40" height="4.40" fill="#0a0a0a"/><rect x="478.80" y="226.00" width="4.40" height="4.40" fill="#0a0a0a"/><circle cx="329.50" cy="58.10" r="2.40" fill="#f0141e"/><circle cx="332.40" cy="145.80" r="2.40" fill="#f0141e"/><circle cx="344.60" cy="180.80" r="2.40" fill="#f0141e"/><circle cx="363.20" cy="194.80" r="2.40" fill="#f0141e"/><circle cx="395.80" cy="206.60" r="2.40" fill="#f0141e"/><circle cx="404.40" cy="209.10" r="2.40" fill="#f0141e"/><circle cx="440.40" cy="219.10" r="2.40" fill="#f0141e"/><circle cx="481.10" cy="222.70" r="2.40" fill="#f0141e"/><polygon points="329.80,239.40 326.60,245.00 333.00,245.00" fill="#1428e6"/><polygon points="333.40,239.40 330.20,245.00 336.60,245.00" fill="#1428e6"/><polygon points="344.90,238.80 341.70,244.40 348.10,244.40" fill="#1428e6"/><polygon points="363.20,234.30 360.00,239.90 366.40,239.90" fill="#1428e6"/><polygon points="396.10,231.10 392.90,236.70 399.30,236.70" fill="#1428e6"/><polygon points="405.00,234.30 401.80,239.90 408.20,239.90" fill="#1428e6"/><polygon points="437.30,223.00 434.10,228.60 440.50,228.60" fill="#1428e6"/><polygon points="440.40,226.00 437.20,231.60 443.60,231.60" fill="#1428e6"/><polygon points="481.10,225.00 477.90,230.60 484.30,230.60" fill="#1428e6"/><polygon points="326.80,32.40 333.00,32.40 329.90,37.40" fill="#1b7f34"/><polygon points="330.00,122.10 336.20,122.10 333.10,127.10" fill="#1b7f34"/><polygon points="341.50,156.70 347.70,156.70 344.60,161.70" fill="#1b7f34"/><polygon points="360.10,167.10 366.30,167.10 363.20,172.10" fill="#1b7f34"/><polygon points="392.90,176.40 399.10,176.40 396.00,181.40" fill="#1b7f34"/><polygon points="401.80,182.10 408.00,182.10 404.90,187.10" fill="#1b7f34"/><polygon points="434.20,186.90 440.40,186.90 437.30,191.90" fill="#1b7f34"/><polygon points="437.30,184.90 443.50,184.90 440.40,189.90" fill="#1b7f34"/><polygon points="478.00,185.90 484.20,185.90 481.10,190.90" fill="#1b7f34"/><rect x="311.70" y="9.00" width="196.80" height="251.30" fill="none" stroke="#151515" stroke-width="1.6"/><path d="M311.70 245.20h3.8M311.70 215.67h3.8M311.70 186.15h3.8M311.70 156.62h3.8M311.70 127.10h3.8M311.70 97.57h3.8M311.70 68.05h3.8M311.70 38.52h3.8M311.70 230.44h2.2M311.70 200.91h2.2M311.70 171.39h2.2M311.70 141.86h2.2M311.70 112.34h2.2M311.70 82.81h2.2M311.70 53.29h2.2M311.70 23.76h2.2M329.90 260.30v-3.8M365.60 260.30v-3.8M401.30 260.30v-3.8M437.00 260.30v-3.8M472.70 260.30v-3.8M347.75 260.30v-2.2M383.45 260.30v-2.2M419.15 260.30v-2.2M454.85 260.30v-2.2M490.55 260.30v-2.2" stroke="#151515" stroke-width="1.2" fill="none"/><text transform="translate(307.20 246.70) scale(0.92 1)" class="tlr" text-anchor="end">0</text><text transform="translate(307.20 217.17) scale(0.92 1)" class="tlr" text-anchor="end">500</text><text transform="translate(307.20 187.65) scale(0.92 1)" class="tlr" text-anchor="end">1000</text><text transform="translate(307.20 158.12) scale(0.92 1)" class="tlr" text-anchor="end">1500</text><text transform="translate(307.20 128.60) scale(0.92 1)" class="tlr" text-anchor="end">2000</text><text transform="translate(307.20 99.07) scale(0.92 1)" class="tlr" text-anchor="end">2500</text><text transform="translate(307.20 69.55) scale(0.92 1)" class="tlr" text-anchor="end">3000</text><text transform="translate(307.20 40.02) scale(0.92 1)" class="tlr" text-anchor="end">3500</text><text transform="translate(307.20 10.50) scale(0.92 1)" class="tlr" text-anchor="end">4000</text><text transform="translate(329.90 271.30) scale(0.92 1)" class="tl" text-anchor="middle">0.0</text><text transform="translate(365.60 271.30) scale(0.92 1)" class="tl" text-anchor="middle">0.1</text><text transform="translate(401.30 271.30) scale(0.92 1)" class="tl" text-anchor="middle">0.2</text><text transform="translate(437.00 271.30) scale(0.92 1)" class="tl" text-anchor="middle">0.3</text><text transform="translate(472.70 271.30) scale(0.92 1)" class="tl" text-anchor="middle">0.4</text><text transform="translate(508.40 271.30) scale(0.92 1)" class="tl" text-anchor="middle">0.5</text><text x="262.90" y="12.80" class="pl" style="font-size:15.3px">(b)</text><text transform="translate(277.20 133.60) rotate(-90)" class="al" style="font-size:14.5px" text-anchor="middle" textLength="103.2" lengthAdjust="spacingAndGlyphs">Pressure drop(Pa)</text><text x="381.00" y="296.40" class="al" style="font-size:14px" textLength="59.3" lengthAdjust="spacingAndGlyphs">Ci (kg/m<tspan class="sup" dy="-6.5">3</tspan><tspan dy="6.5">)</tspan></text><rect x="475.10" y="13.60" width="7.00" height="7.00" fill="#0a0a0a"/><text x="492.00" y="20.40" class="lg">P1</text><circle cx="478.60" cy="29.10" r="4.30" fill="#f0141e"/><text x="492.00" y="32.80" class="lg">P2</text><polygon points="478.60,36.60 473.70,45.00 483.50,45.00" fill="#1428e6"/><text x="492.00" y="44.20" class="lg">P3</text><polygon points="473.70,50.70 483.50,50.70 478.60,59.50" fill="#1b7f34"/><text x="492.00" y="56.60" class="lg">P</text></g>
<g><path d="M599.60 214.60 L600.30 226.00 L601.60 229.90 L604.00 230.20 M604.00 230.20 L614.20 230.00 L656.60 228.20 L686.00 227.20 L743.60 224.80" fill="none" stroke="#646b66" stroke-width="1.4"/><path d="M599.90 242.40 C599.95 236.17 600.02 216.23 600.20 205.00 C600.38 193.77 600.58 182.90 601.00 175.00 C601.42 167.10 602.42 160.50 602.70 157.60 M603.45 157.04 L603.77 157.27 L604.10 157.49 L604.42 157.71 L604.74 157.94 L605.07 158.16 L605.39 158.38 L605.72 158.61 L606.04 158.83 L606.37 159.05 L606.69 159.27 L607.02 159.50 L607.34 159.72 L607.67 159.94 L607.99 160.16 L608.32 160.38 L608.65 160.60 L608.97 160.82 L609.30 161.04 L609.63 161.26 L609.95 161.48 L610.28 161.70 L610.61 161.92 L610.93 162.14 L611.26 162.36 L611.59 162.57 L611.92 162.79 L612.25 163.01 L612.57 163.23 L612.90 163.44 L613.23 163.66 L613.56 163.88 L613.89 164.09 L614.22 164.31 L614.55 164.52 L614.88 164.74 L615.21 164.95 L615.54 165.17 L615.87 165.38 L616.20 165.60 L616.53 165.81 L616.86 166.03 L617.19 166.24 L617.52 166.45 L617.85 166.67 L618.18 166.88 L618.51 167.09 L618.84 167.30 L619.18 167.52 L619.51 167.73 L619.84 167.94 L620.17 168.15 L620.51 168.36 L620.84 168.57 L621.17 168.78 L621.50 168.99 L621.84 169.20 L622.17 169.41 L622.50 169.62 L622.84 169.83 L623.17 170.04 L623.51 170.25 L623.84 170.45 L624.17 170.66 L624.51 170.87 L624.84 171.08 L625.18 171.28 L625.51 171.49 L625.85 171.70 L626.19 171.90 L626.52 172.11 L626.86 172.31 L627.19 172.52 L627.53 172.72 L627.87 172.93 L628.20 173.13 L628.54 173.34 L628.88 173.54 L629.21 173.74 L629.55 173.95 L629.89 174.15 L630.23 174.35 L630.56 174.55 L630.90 174.75 L631.24 174.96 L631.58 175.16 L631.92 175.36 L632.25 175.56 L632.59 175.76 L632.93 175.96 L633.27 176.16 L633.61 176.36 L633.95 176.56 L634.29 176.76 L634.63 176.96 L634.97 177.15 L635.31 177.35 L635.65 177.55 L635.99 177.75 L636.33 177.95 L636.67 178.14 L637.01 178.34 L637.36 178.53 L637.70 178.73 L638.04 178.93 L638.38 179.12 L638.72 179.32 L639.06 179.51 L639.41 179.71 L639.75 179.90 L640.09 180.09 L640.44 180.29 L640.78 180.48 L641.12 180.67 L641.47 180.87 L641.81 181.06 L642.15 181.25 L642.50 181.44 L642.84 181.63 L643.18 181.82 L643.53 182.01 L643.87 182.20 L644.22 182.40 L644.56 182.58 L644.91 182.77 L645.25 182.96 L645.60 183.15 L645.95 183.34 L646.29 183.53 L646.64 183.72 L646.98 183.90 L647.33 184.09 L647.68 184.28 L648.02 184.46 L648.37 184.65 L648.72 184.84 L649.06 185.02 L649.41 185.21 L649.76 185.39 L650.11 185.58 L650.45 185.76 L650.80 185.95 L651.15 186.13 L651.50 186.31 L651.85 186.49 L652.20 186.68 L652.55 186.86 L652.90 187.04 L653.24 187.22 L653.59 187.40 L653.94 187.59 L654.29 187.77 L654.64 187.95 L654.99 188.13 L655.34 188.31 L655.69 188.49 L656.04 188.66 L656.40 188.84 L656.75 189.02 L657.10 189.20 L657.45 189.38 L657.80 189.55 L658.15 189.73 L658.50 189.91 L658.86 190.08 L659.21 190.26 L659.56 190.44 L659.91 190.61 L660.27 190.79 L660.62 190.96 L660.97 191.13 L661.33 191.31 L661.68 191.48 L662.03 191.66 L662.39 191.83 L662.74 192.00 L663.09 192.17 L663.45 192.34 L663.80 192.52 L664.16 192.69 L664.51 192.86 L664.87 193.03 L665.22 193.20 L665.58 193.37 L665.93 193.54 L666.29 193.71 L666.64 193.88 L667.00 194.04 L667.36 194.21 L667.71 194.38 L668.07 194.55 L668.43 194.71 L668.78 194.88 L669.14 195.05 L669.50 195.21 L669.85 195.38 L670.21 195.54 L670.57 195.71 L670.93 195.87 L671.28 196.04 L671.64 196.20 L672.00 196.36 L672.36 196.53 L672.72 196.69 L673.08 196.85 L673.43 197.01 L673.79 197.17 L674.15 197.34 L674.51 197.50 L674.87 197.66 L675.23 197.82 L675.59 197.98 L675.95 198.14 L676.31 198.29 L676.67 198.45 L677.03 198.61 L677.39 198.77 L677.75 198.93 L678.11 199.08 L678.48 199.24 L678.84 199.40 L679.20 199.55 L679.56 199.71 L679.92 199.86 L680.28 200.02 L680.65 200.17 L681.01 200.33 L681.37 200.48 L681.73 200.63 L682.10 200.79 L682.46 200.94 L682.82 201.09 L683.19 201.24 L683.55 201.40 L683.91 201.55 L684.28 201.70 L684.64 201.85 L685.00 202.00 L685.37 202.15 L685.73 202.30 L686.10 202.45 L686.46 202.59 L686.83 202.74 L687.19 202.89 L687.56 203.04 L687.92 203.18 L688.29 203.33 L688.65 203.48 L689.02 203.62 L689.38 203.77 L689.75 203.91 L690.12 204.06 L690.48 204.20 L690.85 204.34 L691.22 204.49 L691.58 204.63 L691.95 204.77 L692.32 204.92 L692.68 205.06 L693.05 205.20 L693.42 205.34 L693.79 205.48 L694.16 205.62 L694.52 205.76 L694.89 205.90 L695.26 206.04 L695.63 206.18 L696.00 206.32 L696.37 206.45 L696.73 206.59 L697.10 206.73 L697.47 206.87 L697.84 207.00 L698.21 207.14 L698.58 207.27 L698.95 207.41 L699.32 207.54 L699.69 207.68 L700.06 207.81 L700.43 207.94 L700.80 208.08 L701.17 208.21 L701.54 208.34 L701.91 208.47 L702.29 208.61 L702.66 208.74 L703.03 208.87 L703.40 209.00 L703.77 209.13 L704.14 209.26 L704.52 209.39 L704.89 209.51 L705.26 209.64 L705.63 209.77 L706.00 209.90 L706.38 210.02 L706.75 210.15 L707.12 210.28 L707.50 210.40 L707.87 210.53 L708.24 210.65 L708.62 210.78 L708.99 210.90 L709.36 211.03 L709.74 211.15 L710.11 211.27 L710.49 211.39 L710.86 211.52 L711.24 211.64 L711.61 211.76 L711.98 211.88 L712.36 212.00 L712.73 212.12 L713.11 212.24 L713.48 212.36 L713.86 212.48 L714.24 212.59 L714.61 212.71 L714.99 212.83 L715.36 212.95 L715.74 213.06 L716.12 213.18 L716.49 213.29 L716.87 213.41 L717.24 213.52 L717.62 213.64 L718.00 213.75 L718.38 213.87 L718.75 213.98 L719.13 214.09 L719.51 214.20 L719.88 214.32 L720.26 214.43 L720.64 214.54 L721.02 214.65 L721.40 214.76 L721.77 214.87 L722.15 214.98 L722.53 215.09 L722.91 215.19 L723.29 215.30 L723.67 215.41 L724.05 215.52 L724.42 215.62 L724.80 215.73 L725.18 215.84 L725.56 215.94 L725.94 216.05 L726.32 216.15 L726.70 216.25 L727.08 216.36 L727.46 216.46 L727.84 216.56 L728.22 216.66 L728.60 216.77 L728.98 216.87 L729.36 216.97 L729.74 217.07 L730.12 217.17 L730.51 217.27 L730.89 217.37 L731.27 217.47 L731.65 217.56 L732.03 217.66 L732.41 217.76 L732.79 217.86 L733.17 217.95 L733.56 218.05 L733.94 218.14 L734.32 218.24 L734.70 218.33 L735.08 218.43 L735.47 218.52 L735.85 218.62 L736.23 218.71 L736.62 218.80 L737.00 218.89 L737.38 218.98 L737.76 219.08 L738.15 219.17 L738.53 219.26 L738.91 219.35 L739.30 219.44 L739.68 219.52 L740.06 219.61 L740.45 219.70 L740.83 219.79 L741.22 219.87 L741.60 219.96" fill="none" stroke="#6474da" stroke-width="1.3"/><path d="M599.54 61.19 L599.57 62.37 L599.60 63.55 L599.63 64.73 L599.66 65.91 L599.69 67.08 L599.73 68.26 L599.76 69.44 L599.79 70.62 L599.83 71.80 L599.86 72.98 L599.89 74.15 L599.93 75.33 L599.96 76.51 L600.00 77.69 L600.03 78.87 L600.07 80.04 L600.10 81.22 L600.14 82.40 L600.17 83.58 L600.21 84.76 L600.25 85.94 L600.28 87.11 L600.32 88.29 L600.36 89.47 L600.40 90.65 L600.43 91.83 L600.47 93.01 L600.51 94.18 L600.55 95.36 L600.59 96.54 L600.63 97.72 L600.67 98.90 L600.71 100.07 L600.75 101.25 L600.79 102.43 L600.84 103.61 L600.88 104.79 L600.92 105.96 L600.97 107.14 L601.01 108.32 L601.05 109.50 L601.10 110.68 L601.14 111.85 L601.19 113.03 L601.24 114.21 L601.28 115.39 L601.33 116.56 L601.38 117.74 L601.43 118.92 L601.47 120.10 L601.52 121.28 L601.57 122.45 L601.62 123.63 L601.67 124.81 L601.73 125.99 L601.78 127.16 L601.83 128.34 L601.89 129.52 L601.94 130.70 L602.00 131.87 L602.05 133.05 L602.11 134.23 L602.17 135.41 L602.22 136.58 L602.28 137.76 L602.34 138.94 L602.40 140.12 L602.46 141.29 L602.53 142.47 L602.59 143.65 L602.65 144.82 L602.72 146.00 L602.79 147.18 L602.85 148.35 L602.92 149.53 L602.99 150.71 L603.06 151.88 L603.13 153.06 L603.21 154.24 L603.28 155.41 L603.36 156.59 L603.43 157.77 L603.51 158.94 L603.59 160.12 L603.67 161.29 L603.76 162.47 L603.84 163.65 L603.93 164.82 L604.02 166.00 L604.11 167.17 L604.20 168.35 L604.29 169.52 L604.39 170.70 L604.49 171.87 L604.59 173.05 L604.69 174.22 L604.80 175.39 L604.90 176.57 L605.02 177.74 L605.13 178.92 L605.25 180.09 L605.37 181.26 L605.49 182.43 L605.62 183.61 L605.75 184.78 L605.88 185.95 L606.02 187.12 L606.17 188.29 L606.32 189.46 L606.47 190.63 L606.63 191.79 L606.80 192.96 L606.97 194.13 L607.15 195.29 L607.34 196.45 L607.54 197.62 L607.74 198.78 L607.96 199.94 L608.19 201.09 L608.42 202.25 L608.68 203.40 L608.94 204.55 L609.23 205.69 L609.53 206.83 L609.85 207.96 L610.20 209.09 L610.57 210.21 L610.98 211.32 L611.42 212.41 L611.90 213.49 L612.43 214.54 L613.01 215.56 L613.66 216.55 L614.37 217.49 L615.16 218.36 L616.02 219.16 L616.96 219.88 L617.96 220.50 L619.01 221.04 L620.10 221.48 L621.22 221.85 L622.36 222.16 L623.51 222.42 L624.66 222.64 L625.83 222.83 L627.00 222.99 L628.16 223.14 L629.34 223.27 L630.51 223.39 L631.68 223.51 L632.86 223.61 L634.03 223.71 L635.20 223.81 L636.38 223.91 L637.55 224.00 L638.73 224.09 L639.91 224.18 L641.08 224.28 L642.26 224.36 L643.43 224.45 L644.61 224.54 L645.78 224.63 L646.96 224.72 L648.13 224.81 L649.31 224.89 L650.48 224.98 L651.66 225.07 L652.84 225.16 L654.01 225.24 L655.19 225.33 L656.36 225.42 L657.54 225.51 L658.71 225.59 L659.89 225.68 L661.06 225.77 L662.24 225.86 L663.42 225.94 L664.59 226.03 L665.77 226.12 L666.94 226.21 L668.12 226.29 L669.29 226.38 L670.47 226.47 L671.64 226.55 L672.82 226.64 L673.99 226.73 L675.17 226.82 L676.35 226.90 L677.52 226.99 L678.70 227.08 L679.87 227.17 L681.05 227.25 L682.22 227.34 L683.40 227.43 L684.57 227.51 L685.75 227.60 L686.93 227.69 L688.10 227.78 L689.28 227.86 L690.45 227.95 L691.63 228.04 L692.80 228.13 L693.98 228.21 L695.15 228.30 L696.33 228.39 L697.51 228.48 L698.68 228.56 L699.86 228.65 L701.03 228.74 L702.21 228.82 L703.38 228.91 L704.56 229.00 L705.73 229.09 L706.91 229.17 L708.09 229.26 L709.26 229.35 L710.44 229.44 L711.61 229.52 L712.79 229.61 L713.96 229.70 L715.14 229.79 L716.31 229.87 L717.49 229.96 L718.66 230.05 L719.84 230.13 L721.02 230.22 L722.19 230.31 L723.37 230.40 L724.54 230.48 L725.72 230.57 L726.89 230.66 L728.07 230.75 L729.24 230.83 L730.42 230.92 L731.60 231.01 L732.77 231.10 L733.95 231.18 L735.12 231.27 L736.30 231.36 L737.47 231.44 L738.65 231.53 L739.82 231.62 L741.00 231.71" fill="none" stroke="#cc73a0" stroke-width="1.3"/><path d="M599.90 29.90 C600.57 33.87 602.57 46.05 603.90 53.70 C605.23 61.35 606.58 68.33 607.90 75.80 C609.22 83.27 610.52 91.80 611.80 98.50 C613.08 105.20 614.40 111.55 615.60 116.00 C616.80 120.45 617.87 122.10 619.00 125.20 C620.13 128.30 621.25 131.70 622.40 134.60 C623.55 137.50 624.48 140.07 625.90 142.60 C627.32 145.13 628.92 147.45 630.90 149.80 C632.88 152.15 634.98 154.55 637.80 156.70 C640.62 158.85 644.65 161.13 647.80 162.70 C650.95 164.27 653.57 165.12 656.70 166.10 C659.83 167.08 663.28 167.95 666.60 168.60 C669.92 169.25 671.07 169.57 676.60 170.00 C682.13 170.43 688.63 170.70 699.80 171.20 C710.97 171.70 736.30 172.70 743.60 173.00" fill="none" stroke="#78cf86" stroke-width="1.4"/><rect x="597.40" y="212.40" width="4.40" height="4.40" fill="#0a0a0a"/><rect x="611.60" y="228.40" width="4.40" height="4.40" fill="#0a0a0a"/><rect x="620.30" y="227.20" width="4.40" height="4.40" fill="#0a0a0a"/><rect x="663.80" y="223.20" width="4.40" height="4.40" fill="#0a0a0a"/><rect x="674.40" y="224.80" width="4.40" height="4.40" fill="#0a0a0a"/><rect x="697.60" y="223.00" width="4.40" height="4.40" fill="#0a0a0a"/><rect x="741.40" y="222.60" width="4.40" height="4.40" fill="#0a0a0a"/><circle cx="599.30" cy="61.30" r="2.40" fill="#f0141e"/><circle cx="613.80" cy="214.10" r="2.40" fill="#f0141e"/><circle cx="622.50" cy="219.30" r="2.40" fill="#f0141e"/><circle cx="666.00" cy="228.20" r="2.40" fill="#f0141e"/><circle cx="676.10" cy="228.20" r="2.40" fill="#f0141e"/><circle cx="699.80" cy="228.40" r="2.40" fill="#f0141e"/><circle cx="743.20" cy="230.20" r="2.40" fill="#f0141e"/><polygon points="599.60,240.00 596.40,245.60 602.80,245.60" fill="#1428e6"/><polygon points="613.80,158.40 610.60,164.00 617.00,164.00" fill="#1428e6"/><polygon points="622.50,167.30 619.30,172.90 625.70,172.90" fill="#1428e6"/><polygon points="666.00,203.10 662.80,208.70 669.20,208.70" fill="#1428e6"/><polygon points="676.60,203.10 673.40,208.70 679.80,208.70" fill="#1428e6"/><polygon points="699.80,203.80 696.60,209.40 703.00,209.40" fill="#1428e6"/><polygon points="743.60,205.80 740.40,211.40 746.80,211.40" fill="#1428e6"/><polygon points="596.40,25.80 602.60,25.80 599.50,30.80" fill="#1b7f34"/><polygon points="610.70,113.90 616.90,113.90 613.80,118.90" fill="#1b7f34"/><polygon points="619.40,126.90 625.60,126.90 622.50,131.90" fill="#1b7f34"/><polygon points="662.90,166.90 669.10,166.90 666.00,171.90" fill="#1b7f34"/><polygon points="673.50,169.30 679.70,169.30 676.60,174.30" fill="#1b7f34"/><polygon points="696.70,168.80 702.90,168.80 699.80,173.80" fill="#1b7f34"/><polygon points="740.50,170.80 746.70,170.80 743.60,175.80" fill="#1b7f34"/><rect x="586.20" y="8.80" width="196.00" height="251.40" fill="none" stroke="#151515" stroke-width="1.6"/><path d="M586.20 245.10h3.8M586.20 215.56h3.8M586.20 186.02h3.8M586.20 156.49h3.8M586.20 126.95h3.8M586.20 97.41h3.8M586.20 67.88h3.8M586.20 38.34h3.8M586.20 230.33h2.2M586.20 200.79h2.2M586.20 171.26h2.2M586.20 141.72h2.2M586.20 112.18h2.2M586.20 82.64h2.2M586.20 53.11h2.2M586.20 23.57h2.2M599.60 260.20v-3.8M627.70 260.20v-3.8M655.80 260.20v-3.8M683.90 260.20v-3.8M712.00 260.20v-3.8M740.10 260.20v-3.8M768.20 260.20v-3.8M613.65 260.20v-2.2M641.75 260.20v-2.2M669.85 260.20v-2.2M697.95 260.20v-2.2M726.05 260.20v-2.2M754.15 260.20v-2.2" stroke="#151515" stroke-width="1.2" fill="none"/><text transform="translate(582.50 247.10) scale(0.92 1)" class="tlr" text-anchor="end">0</text><text transform="translate(582.50 217.56) scale(0.92 1)" class="tlr" text-anchor="end">500</text><text transform="translate(582.50 188.02) scale(0.92 1)" class="tlr" text-anchor="end">1000</text><text transform="translate(582.50 158.49) scale(0.92 1)" class="tlr" text-anchor="end">1500</text><text transform="translate(582.50 128.95) scale(0.92 1)" class="tlr" text-anchor="end">2000</text><text transform="translate(582.50 99.41) scale(0.92 1)" class="tlr" text-anchor="end">2500</text><text transform="translate(582.50 69.88) scale(0.92 1)" class="tlr" text-anchor="end">3000</text><text transform="translate(582.50 40.34) scale(0.92 1)" class="tlr" text-anchor="end">3500</text><text transform="translate(582.50 10.80) scale(0.92 1)" class="tlr" text-anchor="end">4000</text><text transform="translate(599.60 271.20) scale(0.92 1)" class="tl" text-anchor="middle">0.0</text><text transform="translate(627.70 271.20) scale(0.92 1)" class="tl" text-anchor="middle">0.1</text><text transform="translate(655.80 271.20) scale(0.92 1)" class="tl" text-anchor="middle">0.2</text><text transform="translate(683.90 271.20) scale(0.92 1)" class="tl" text-anchor="middle">0.3</text><text transform="translate(712.00 271.20) scale(0.92 1)" class="tl" text-anchor="middle">0.4</text><text transform="translate(740.10 271.20) scale(0.92 1)" class="tl" text-anchor="middle">0.5</text><text transform="translate(768.20 271.20) scale(0.92 1)" class="tl" text-anchor="middle">0.6</text><text x="537.40" y="12.90" class="pl" style="font-size:16px">(c)</text><text transform="translate(547.00 138.90) rotate(-90)" class="al" style="font-size:15px" text-anchor="middle" textLength="104.3" lengthAdjust="spacingAndGlyphs">Pressure drop(Pa)</text><text x="654.80" y="295.40" class="al" style="font-size:13.5px" textLength="58.6" lengthAdjust="spacingAndGlyphs">Ci (kg/m<tspan class="sup" dy="-6.5">3</tspan><tspan dy="6.5">)</tspan></text><rect x="748.80" y="21.10" width="7.00" height="7.00" fill="#0a0a0a"/><text x="766.60" y="26.90" class="lg">P1</text><circle cx="752.30" cy="36.20" r="4.30" fill="#f0141e"/><text x="766.60" y="39.80" class="lg">P2</text><polygon points="752.30,43.80 747.40,52.20 757.20,52.20" fill="#1428e6"/><text x="766.60" y="51.50" class="lg">P3</text><polygon points="747.40,58.40 757.20,58.40 752.30,67.20" fill="#1b7f34"/><text x="766.60" y="64.40" class="lg">P</text></g>
<g><path d="M60.03 522.48 L60.35 522.80 L60.67 523.11 L61.00 523.42 L61.34 523.71 L61.68 524.01 L62.03 524.30 L62.38 524.58 L62.73 524.85 L63.10 525.12 L63.46 525.38 L63.83 525.63 L64.21 525.88 L64.59 526.12 L64.98 526.35 L65.36 526.58 L65.76 526.80 L66.15 527.01 L66.55 527.22 L66.96 527.42 L67.36 527.61 L67.77 527.80 L68.19 527.98 L68.60 528.15 L69.02 528.31 L69.44 528.47 L69.86 528.63 L70.29 528.78 L70.72 528.92 L71.14 529.06 L71.58 529.19 L72.01 529.31 L72.44 529.43 L72.88 529.55 L73.31 529.66 L73.75 529.77 L74.19 529.87 L74.63 529.97 L75.07 530.06 L75.51 530.15 L75.95 530.24 L76.39 530.32 L76.83 530.40 L77.28 530.48 L77.72 530.55 L78.17 530.62 L78.61 530.68 L79.06 530.75 L79.50 530.81 L79.95 530.87 L80.40 530.92 L80.84 530.98 L81.29 531.03 L81.74 531.08 L82.18 531.13 L82.63 531.17 L83.08 531.22 L83.53 531.26 L83.98 531.30 L84.42 531.34 L84.87 531.37 L85.32 531.41 L85.77 531.44 L86.22 531.48 L86.67 531.51 L87.12 531.54 L87.57 531.57 L88.02 531.60 L88.46 531.62 L88.91 531.65 L89.36 531.67 L89.81 531.70 L90.26 531.72 L90.71 531.74 L91.16 531.77 L91.61 531.79 L92.06 531.81 L92.51 531.83 L92.96 531.85 L93.41 531.86 L93.86 531.88 L94.31 531.90 L94.76 531.92 L95.21 531.93 L95.66 531.95 L96.11 531.96 L96.56 531.98 L97.01 531.99 L97.46 532.01 L97.91 532.02 L98.36 532.03 L98.81 532.04 L99.26 532.06 L99.71 532.07 L100.16 532.08 L100.61 532.09 L101.06 532.10 L101.51 532.12 L101.96 532.13 L102.41 532.14 L102.86 532.15 L103.31 532.16 L103.76 532.17 L104.21 532.18 L104.66 532.19 L105.10 532.20 L105.55 532.21 L106.00 532.22 L106.45 532.22 L106.90 532.23 L107.35 532.24 L107.80 532.25 L108.25 532.26 L108.70 532.27 L109.15 532.28 L109.60 532.28 L110.05 532.29 L110.50 532.30 L110.95 532.31 L111.40 532.31 L111.85 532.32 L112.30 532.33 L112.75 532.34 L113.20 532.34 L113.65 532.35 L114.10 532.36 L114.55 532.37 L115.00 532.37 L115.45 532.38 L115.90 532.39 L116.35 532.39 L116.80 532.40 L117.25 532.41 L117.70 532.42 L118.15 532.42 L118.60 532.43 L119.05 532.44 L119.50 532.44 L119.95 532.45 L120.40 532.46 L120.85 532.46 L121.30 532.47 L121.75 532.48 L122.20 532.48 L122.65 532.49 L123.10 532.49 L123.55 532.50 L124.00 532.51 L124.45 532.51 L124.90 532.52 L125.35 532.53 L125.80 532.53 L126.25 532.54 L126.70 532.55 L127.15 532.55 L127.60 532.56 L128.05 532.56 L128.50 532.57 L128.95 532.58 L129.40 532.58 L129.85 532.59 L130.30 532.60 L130.75 532.60 L131.20 532.61 L131.65 532.61 L132.10 532.62 L132.55 532.63 L133.00 532.63 L133.45 532.64 L133.90 532.64 L134.35 532.65 L134.80 532.66 L135.25 532.66 L135.70 532.67 L136.15 532.67 L136.60 532.68 L137.05 532.69 L137.50 532.69 L137.95 532.70 L138.40 532.70 L138.85 532.71 L139.30 532.72 L139.75 532.72 L140.20 532.73 L140.65 532.73 L141.10 532.74 L141.55 532.75 L142.00 532.75 L142.45 532.76 L142.90 532.76 L143.35 532.77 L143.80 532.78 L144.25 532.78 L144.70 532.79 L145.15 532.79 L145.60 532.80 L146.05 532.81 L146.50 532.81 L146.95 532.82 L147.40 532.82 L147.85 532.83 L148.30 532.84 L148.75 532.84 L149.20 532.85 L149.65 532.85 L150.10 532.86 L150.55 532.87 L151.00 532.87 L151.45 532.88 L151.90 532.88 L152.35 532.89 L152.80 532.90 L153.25 532.90 L153.70 532.91 L154.15 532.91 L154.60 532.92 L155.05 532.93 L155.50 532.93 L155.95 532.94 L156.40 532.94 L156.85 532.95 L157.30 532.96 L157.75 532.96 L158.20 532.97 L158.65 532.97 L159.10 532.98 L159.55 532.99 L160.00 532.99 L160.45 533.00 L160.90 533.00 L161.35 533.01 L161.80 533.02 L162.25 533.02 L162.70 533.03 L163.15 533.03 L163.60 533.04 L164.05 533.05 L164.50 533.05 L164.95 533.06 L165.40 533.06 L165.85 533.07 L166.30 533.07 L166.75 533.08 L167.20 533.09 L167.65 533.09 L168.10 533.10 L168.55 533.10 L169.00 533.11 L169.45 533.12 L169.90 533.12 L170.35 533.13 L170.80 533.13 L171.25 533.14 L171.70 533.15 L172.15 533.15 L172.60 533.16 L173.05 533.16 L173.50 533.17 L173.95 533.18 L174.40 533.18 L174.85 533.19 L175.30 533.19 L175.75 533.20 L176.20 533.21 L176.65 533.21 L177.10 533.22 L177.55 533.22 L178.00 533.23 L178.45 533.24 L178.90 533.24 L179.35 533.25 L179.80 533.25 L180.25 533.26 L180.70 533.26 L181.15 533.27 L181.60 533.28 L182.05 533.28 L182.50 533.29 L182.95 533.29 L183.40 533.30 L183.85 533.31 L184.30 533.31 L184.75 533.32 L185.20 533.32 L185.65 533.33 L186.10 533.34 L186.55 533.34 L187.00 533.35 L187.45 533.35 L187.90 533.36 L188.35 533.37 L188.80 533.37 L189.25 533.38 L189.70 533.38 L190.15 533.39 L190.60 533.40 L191.05 533.40 L191.50 533.41 L191.95 533.41 L192.40 533.42 L192.85 533.43 L193.30 533.43 L193.75 533.44 L194.20 533.44 L194.65 533.45 L195.10 533.46 L195.55 533.46 L196.00 533.47 L196.45 533.47 L196.90 533.48 L197.35 533.48 L197.80 533.49 L198.25 533.50 L198.70 533.50 L199.15 533.51 L199.60 533.51 L200.05 533.52 L200.50 533.53 L200.95 533.53 L201.40 533.54 L201.85 533.54 L202.30 533.55 L202.75 533.56 L203.20 533.56 L203.65 533.57 L204.10 533.57 L204.55 533.58 L205.00 533.59 L205.45 533.59 L205.90 533.60 L206.35 533.60 L206.80 533.61 L207.25 533.62 L207.70 533.62 L208.15 533.63 L208.60 533.63 L209.05 533.64 L209.50 533.65 L209.95 533.65 L210.40 533.66 L210.85 533.66 L211.30 533.67 L211.75 533.67 L212.20 533.68 L212.65 533.69 L213.10 533.69 L213.55 533.70 L214.00 533.70 L214.45 533.71 L214.90 533.72 L215.35 533.72 L215.80 533.73 L216.25 533.73 L216.70 533.74 L217.15 533.75 L217.60 533.75 L218.05 533.76 L218.50 533.76 L218.95 533.77 L219.40 533.78 L219.85 533.78 L220.30 533.79 L220.75 533.79 L221.20 533.80 L221.65 533.81 L222.10 533.81 L222.55 533.82 L223.00 533.82 L223.45 533.83 L223.90 533.84 L224.35 533.84 L224.80 533.85 L225.25 533.85 L225.70 533.86 L226.15 533.86 L226.60 533.87 L227.05 533.88 L227.50 533.88 L227.95 533.89 L228.40 533.89 L228.85 533.90 L229.30 533.91 L229.75 533.91 L230.20 533.92 L230.65 533.92 L231.10 533.93 L231.55 533.94 L232.00 533.94" fill="none" stroke="#646b66" stroke-width="1.4"/><path d="M60.40 560.10 C60.48 557.58 60.70 548.93 60.90 545.00 C61.10 541.07 61.25 538.62 61.60 536.50 C61.95 534.38 62.45 533.12 63.00 532.30 C63.55 531.48 64.58 531.72 64.90 531.60 M64.88 531.18 L65.30 531.23 L65.73 531.28 L66.15 531.32 L66.58 531.37 L67.01 531.42 L67.43 531.46 L67.86 531.51 L68.28 531.56 L68.71 531.61 L69.13 531.65 L69.56 531.70 L69.98 531.75 L70.41 531.79 L70.84 531.84 L71.26 531.89 L71.69 531.93 L72.11 531.98 L72.54 532.02 L72.96 532.07 L73.39 532.12 L73.81 532.16 L74.24 532.21 L74.67 532.26 L75.09 532.30 L75.52 532.35 L75.94 532.39 L76.37 532.44 L76.79 532.48 L77.22 532.53 L77.65 532.58 L78.07 532.62 L78.50 532.67 L78.92 532.71 L79.35 532.76 L79.77 532.80 L80.20 532.85 L80.63 532.89 L81.05 532.94 L81.48 532.98 L81.90 533.03 L82.33 533.07 L82.75 533.12 L83.18 533.16 L83.61 533.21 L84.03 533.25 L84.46 533.30 L84.88 533.34 L85.31 533.39 L85.74 533.43 L86.16 533.47 L86.59 533.52 L87.01 533.56 L87.44 533.61 L87.86 533.65 L88.29 533.70 L88.72 533.74 L89.14 533.78 L89.57 533.83 L89.99 533.87 L90.42 533.91 L90.85 533.96 L91.27 534.00 L91.70 534.05 L92.12 534.09 L92.55 534.13 L92.97 534.18 L93.40 534.22 L93.83 534.26 L94.25 534.31 L94.68 534.35 L95.10 534.39 L95.53 534.43 L95.96 534.48 L96.38 534.52 L96.81 534.56 L97.23 534.61 L97.66 534.65 L98.09 534.69 L98.51 534.73 L98.94 534.78 L99.36 534.82 L99.79 534.86 L100.22 534.90 L100.64 534.95 L101.07 534.99 L101.49 535.03 L101.92 535.07 L102.35 535.12 L102.77 535.16 L103.20 535.20 L103.62 535.24 L104.05 535.28 L104.48 535.32 L104.90 535.37 L105.33 535.41 L105.76 535.45 L106.18 535.49 L106.61 535.53 L107.03 535.57 L107.46 535.61 L107.89 535.66 L108.31 535.70 L108.74 535.74 L109.16 535.78 L109.59 535.82 L110.02 535.86 L110.44 535.90 L110.87 535.94 L111.29 535.98 L111.72 536.02 L112.15 536.07 L112.57 536.11 L113.00 536.15 L113.43 536.19 L113.85 536.23 L114.28 536.27 L114.70 536.31 L115.13 536.35 L115.56 536.39 L115.98 536.43 L116.41 536.47 L116.84 536.51 L117.26 536.55 L117.69 536.59 L118.11 536.63 L118.54 536.67 L118.97 536.71 L119.39 536.75 L119.82 536.79 L120.25 536.83 L120.67 536.87 L121.10 536.91 L121.52 536.94 L121.95 536.98 L122.38 537.02 L122.80 537.06 L123.23 537.10 L123.66 537.14 L124.08 537.18 L124.51 537.22 L124.94 537.26 L125.36 537.30 L125.79 537.33 L126.21 537.37 L126.64 537.41 L127.07 537.45 L127.49 537.49 L127.92 537.53 L128.35 537.57 L128.77 537.60 L129.20 537.64 L129.63 537.68 L130.05 537.72 L130.48 537.76 L130.91 537.79 L131.33 537.83 L131.76 537.87 L132.18 537.91 L132.61 537.95 L133.04 537.98 L133.46 538.02 L133.89 538.06 L134.32 538.10 L134.74 538.13 L135.17 538.17 L135.60 538.21 L136.02 538.25 L136.45 538.28 L136.88 538.32 L137.30 538.36 L137.73 538.39 L138.16 538.43 L138.58 538.47 L139.01 538.50 L139.43 538.54 L139.86 538.58 L140.29 538.61 L140.71 538.65 L141.14 538.69 L141.57 538.72 L141.99 538.76 L142.42 538.80 L142.85 538.83 L143.27 538.87 L143.70 538.91 L144.13 538.94 L144.55 538.98 L144.98 539.01 L145.41 539.05 L145.83 539.09 L146.26 539.12 L146.69 539.16 L147.11 539.19 L147.54 539.23 L147.97 539.26 L148.39 539.30 L148.82 539.34 L149.25 539.37 L149.67 539.41 L150.10 539.44 L150.53 539.48 L150.95 539.51 L151.38 539.55 L151.81 539.58 L152.23 539.62 L152.66 539.65 L153.09 539.69 L153.51 539.72 L153.94 539.76 L154.37 539.79 L154.79 539.83 L155.22 539.86 L155.65 539.90 L156.07 539.93 L156.50 539.96 L156.93 540.00 L157.35 540.03 L157.78 540.07 L158.21 540.10 L158.63 540.13 L159.06 540.17 L159.49 540.20 L159.91 540.24 L160.34 540.27 L160.77 540.30 L161.19 540.34 L161.62 540.37 L162.05 540.41 L162.48 540.44 L162.90 540.47 L163.33 540.51 L163.76 540.54 L164.18 540.57 L164.61 540.61 L165.04 540.64 L165.46 540.67 L165.89 540.71 L166.32 540.74 L166.74 540.77 L167.17 540.80 L167.60 540.84 L168.02 540.87 L168.45 540.90 L168.88 540.94 L169.30 540.97 L169.73 541.00 L170.16 541.03 L170.59 541.07 L171.01 541.10 L171.44 541.13 L171.87 541.16 L172.29 541.19 L172.72 541.23 L173.15 541.26 L173.57 541.29 L174.00 541.32 L174.43 541.35 L174.85 541.39 L175.28 541.42 L175.71 541.45 L176.14 541.48 L176.56 541.51 L176.99 541.54 L177.42 541.58 L177.84 541.61 L178.27 541.64 L178.70 541.67 L179.12 541.70 L179.55 541.73 L179.98 541.76 L180.40 541.79 L180.83 541.83 L181.26 541.86 L181.69 541.89 L182.11 541.92 L182.54 541.95 L182.97 541.98 L183.39 542.01 L183.82 542.04 L184.25 542.07 L184.68 542.10 L185.10 542.13 L185.53 542.16 L185.96 542.19 L186.38 542.22 L186.81 542.25 L187.24 542.28 L187.66 542.31 L188.09 542.34 L188.52 542.37 L188.95 542.40 L189.37 542.43 L189.80 542.46 L190.23 542.49 L190.65 542.52 L191.08 542.55 L191.51 542.58 L191.94 542.61 L192.36 542.64 L192.79 542.67 L193.22 542.70 L193.64 542.73 L194.07 542.76 L194.50 542.79 L194.93 542.82 L195.35 542.85 L195.78 542.87 L196.21 542.90 L196.63 542.93 L197.06 542.96 L197.49 542.99 L197.92 543.02 L198.34 543.05 L198.77 543.07 L199.20 543.10 L199.62 543.13 L200.05 543.16 L200.48 543.19 L200.91 543.22 L201.33 543.24 L201.76 543.27 L202.19 543.30 L202.61 543.33 L203.04 543.36 L203.47 543.38 L203.90 543.41 L204.32 543.44 L204.75 543.47 L205.18 543.50 L205.60 543.52 L206.03 543.55 L206.46 543.58 L206.89 543.61 L207.31 543.63 L207.74 543.66 L208.17 543.69 L208.60 543.72 L209.02 543.74 L209.45 543.77 L209.88 543.80 L210.30 543.82 L210.73 543.85 L211.16 543.88 L211.59 543.90 L212.01 543.93 L212.44 543.96 L212.87 543.98 L213.30 544.01 L213.72 544.04 L214.15 544.06 L214.58 544.09 L215.00 544.12 L215.43 544.14 L215.86 544.17 L216.29 544.19 L216.71 544.22 L217.14 544.25 L217.57 544.27 L218.00 544.30 L218.42 544.32 L218.85 544.35 L219.28 544.38 L219.71 544.40 L220.13 544.43 L220.56 544.45 L220.99 544.48 L221.41 544.50 L221.84 544.53 L222.27 544.55 L222.70 544.58 L223.12 544.60 L223.55 544.63 L223.98 544.65 L224.41 544.68 L224.83 544.70 L225.26 544.73 L225.69 544.75 L226.12 544.78 L226.54 544.80 L226.97 544.83 L227.40 544.85 L227.83 544.88 L228.25 544.90 L228.68 544.93 L229.11 544.95 L229.54 544.98 L229.96 545.00 L230.39 545.02 L230.82 545.05 L231.25 545.07 L231.67 545.10 L232.10 545.12" fill="none" stroke="#6474da" stroke-width="1.3"/><path d="M60.72 378.72 L60.76 379.78 L60.80 380.84 L60.84 381.90 L60.89 382.96 L60.93 384.02 L60.97 385.08 L61.02 386.14 L61.06 387.19 L61.10 388.25 L61.15 389.31 L61.19 390.37 L61.24 391.43 L61.28 392.49 L61.33 393.55 L61.37 394.61 L61.42 395.67 L61.47 396.73 L61.51 397.79 L61.56 398.85 L61.61 399.91 L61.66 400.97 L61.71 402.02 L61.76 403.08 L61.81 404.14 L61.85 405.20 L61.91 406.26 L61.96 407.32 L62.01 408.38 L62.06 409.44 L62.11 410.50 L62.16 411.56 L62.22 412.62 L62.27 413.67 L62.32 414.73 L62.38 415.79 L62.43 416.85 L62.49 417.91 L62.54 418.97 L62.60 420.03 L62.65 421.09 L62.71 422.15 L62.77 423.20 L62.83 424.26 L62.89 425.32 L62.95 426.38 L63.01 427.44 L63.07 428.50 L63.13 429.56 L63.19 430.61 L63.25 431.67 L63.32 432.73 L63.38 433.79 L63.45 434.85 L63.51 435.91 L63.58 436.96 L63.64 438.02 L63.71 439.08 L63.78 440.14 L63.85 441.20 L63.92 442.25 L63.99 443.31 L64.06 444.37 L64.13 445.43 L64.21 446.49 L64.28 447.54 L64.35 448.60 L64.43 449.66 L64.51 450.72 L64.59 451.77 L64.66 452.83 L64.74 453.89 L64.82 454.95 L64.91 456.00 L64.99 457.06 L65.07 458.12 L65.16 459.17 L65.25 460.23 L65.33 461.29 L65.42 462.34 L65.51 463.40 L65.61 464.46 L65.70 465.51 L65.79 466.57 L65.89 467.62 L65.99 468.68 L66.09 469.74 L66.19 470.79 L66.29 471.85 L66.40 472.90 L66.50 473.96 L66.61 475.01 L66.72 476.07 L66.83 477.12 L66.95 478.17 L67.06 479.23 L67.18 480.28 L67.30 481.33 L67.43 482.39 L67.55 483.44 L67.68 484.49 L67.81 485.55 L67.95 486.60 L68.08 487.65 L68.22 488.70 L68.37 489.75 L68.51 490.80 L68.67 491.85 L68.82 492.90 L68.98 493.95 L69.14 494.99 L69.31 496.04 L69.48 497.09 L69.65 498.13 L69.84 499.18 L70.02 500.22 L70.21 501.26 L70.41 502.31 L70.62 503.35 L70.83 504.39 L71.05 505.42 L71.27 506.46 L71.51 507.49 L71.75 508.52 L72.00 509.55 L72.27 510.58 L72.54 511.61 L72.83 512.63 L73.13 513.64 L73.44 514.66 L73.77 515.66 L74.12 516.67 L74.48 517.66 L74.86 518.65 L75.27 519.63 L75.70 520.60 L76.15 521.56 L76.63 522.50 L77.15 523.43 L77.69 524.34 L78.28 525.22 L78.90 526.08 L79.57 526.91 L80.28 527.70 L81.03 528.44 L81.82 529.14 L82.66 529.79 L83.54 530.39 L84.45 530.94 L85.39 531.42 L86.35 531.86 L87.34 532.25 L88.34 532.59 L89.36 532.90 L90.38 533.17 L91.42 533.40 L92.46 533.61 L93.50 533.80 L94.55 533.97 L95.60 534.12 L96.65 534.26 L97.70 534.38 L98.75 534.50 L99.81 534.61 L100.86 534.71 L101.92 534.80 L102.98 534.89 L104.03 534.97 L105.09 535.05 L106.15 535.13 L107.21 535.21 L108.26 535.28 L109.32 535.35 L110.38 535.42 L111.44 535.49 L112.50 535.56 L113.55 535.62 L114.61 535.69 L115.67 535.76 L116.73 535.82 L117.79 535.89 L118.85 535.95 L119.90 536.01 L120.96 536.08 L122.02 536.14 L123.08 536.20 L124.14 536.27 L125.20 536.33 L126.25 536.39 L127.31 536.46 L128.37 536.52 L129.43 536.58 L130.49 536.64 L131.55 536.71 L132.60 536.77 L133.66 536.83 L134.72 536.89 L135.78 536.96 L136.84 537.02 L137.90 537.08 L138.96 537.14 L140.01 537.20 L141.07 537.27 L142.13 537.33 L143.19 537.39 L144.25 537.45 L145.31 537.52 L146.36 537.58 L147.42 537.64 L148.48 537.70 L149.54 537.76 L150.60 537.83 L151.66 537.89 L152.72 537.95 L153.77 538.01 L154.83 538.08 L155.89 538.14 L156.95 538.20 L158.01 538.26 L159.07 538.33 L160.12 538.39 L161.18 538.45 L162.24 538.51 L163.30 538.57 L164.36 538.64 L165.42 538.70 L166.48 538.76 L167.53 538.82 L168.59 538.89 L169.65 538.95 L170.71 539.01 L171.77 539.07 L172.83 539.13 L173.88 539.20 L174.94 539.26 L176.00 539.32 L177.06 539.38 L178.12 539.45 L179.18 539.51 L180.24 539.57 L181.29 539.63 L182.35 539.69 L183.41 539.76 L184.47 539.82 L185.53 539.88 L186.59 539.94 L187.64 540.01 L188.70 540.07 L189.76 540.13 L190.82 540.19 L191.88 540.25 L192.94 540.32 L194.00 540.38 L195.05 540.44 L196.11 540.50 L197.17 540.57 L198.23 540.63 L199.29 540.69 L200.35 540.75 L201.40 540.81 L202.46 540.88 L203.52 540.94 L204.58 541.00 L205.64 541.06 L206.70 541.13 L207.76 541.19 L208.81 541.25 L209.87 541.31 L210.93 541.37 L211.99 541.44 L213.05 541.50 L214.11 541.56 L215.16 541.62 L216.22 541.69 L217.28 541.75 L218.34 541.81 L219.40 541.87 L220.46 541.94 L221.52 542.00 L222.57 542.06 L223.63 542.12 L224.69 542.18 L225.75 542.25 L226.81 542.31 L227.87 542.37 L228.92 542.43 L229.98 542.50 L231.04 542.56 L232.10 542.62" fill="none" stroke="#cc73a0" stroke-width="1.3"/><path d="M61.51 333.93 L61.57 334.81 L61.62 335.70 L61.68 336.58 L61.74 337.47 L61.80 338.35 L61.86 339.24 L61.93 340.12 L61.99 341.00 L62.05 341.89 L62.11 342.77 L62.17 343.66 L62.24 344.54 L62.30 345.43 L62.36 346.31 L62.43 347.19 L62.49 348.08 L62.56 348.96 L62.62 349.85 L62.69 350.73 L62.75 351.61 L62.82 352.50 L62.89 353.38 L62.96 354.26 L63.03 355.15 L63.09 356.03 L63.16 356.92 L63.23 357.80 L63.30 358.68 L63.37 359.57 L63.45 360.45 L63.52 361.33 L63.59 362.22 L63.66 363.10 L63.74 363.98 L63.81 364.87 L63.89 365.75 L63.96 366.63 L64.04 367.52 L64.11 368.40 L64.19 369.28 L64.27 370.17 L64.35 371.05 L64.43 371.93 L64.51 372.82 L64.59 373.70 L64.67 374.58 L64.75 375.46 L64.83 376.35 L64.91 377.23 L65.00 378.11 L65.08 378.99 L65.17 379.88 L65.25 380.76 L65.34 381.64 L65.43 382.52 L65.52 383.40 L65.61 384.29 L65.70 385.17 L65.79 386.05 L65.88 386.93 L65.97 387.81 L66.07 388.69 L66.16 389.58 L66.26 390.46 L66.35 391.34 L66.45 392.22 L66.55 393.10 L66.65 393.98 L66.75 394.86 L66.85 395.74 L66.95 396.62 L67.06 397.50 L67.16 398.38 L67.27 399.26 L67.38 400.14 L67.48 401.02 L67.59 401.90 L67.71 402.78 L67.82 403.66 L67.93 404.54 L68.05 405.42 L68.16 406.30 L68.28 407.18 L68.40 408.05 L68.52 408.93 L68.64 409.81 L68.77 410.69 L68.89 411.57 L69.02 412.44 L69.15 413.32 L69.28 414.20 L69.41 415.07 L69.54 415.95 L69.68 416.83 L69.82 417.70 L69.96 418.58 L70.10 419.45 L70.24 420.33 L70.39 421.20 L70.53 422.08 L70.68 422.95 L70.84 423.82 L70.99 424.69 L71.15 425.57 L71.31 426.44 L71.47 427.31 L71.64 428.18 L71.81 429.05 L71.98 429.92 L72.15 430.79 L72.33 431.66 L72.51 432.53 L72.69 433.39 L72.88 434.26 L73.07 435.13 L73.26 435.99 L73.46 436.86 L73.66 437.72 L73.87 438.58 L74.08 439.44 L74.29 440.30 L74.51 441.16 L74.74 442.02 L74.96 442.88 L75.20 443.73 L75.44 444.58 L75.68 445.44 L75.93 446.29 L76.19 447.13 L76.45 447.98 L76.72 448.82 L77.00 449.67 L77.28 450.51 L77.58 451.34 L77.87 452.18 L78.18 453.01 L78.50 453.84 L78.83 454.66 L79.16 455.48 L79.51 456.30 L79.86 457.11 L80.23 457.92 L80.61 458.72 L81.00 459.51 L81.40 460.30 L81.82 461.09 L82.25 461.86 L82.70 462.63 L83.16 463.38 L83.63 464.13 L84.13 464.87 L84.64 465.59 L85.16 466.31 L85.71 467.00 L86.27 467.69 L86.85 468.36 L87.45 469.01 L88.07 469.64 L88.71 470.26 L89.37 470.85 L90.05 471.43 L90.74 471.98 L91.45 472.51 L92.18 473.02 L92.92 473.50 L93.67 473.96 L94.44 474.40 L95.22 474.82 L96.02 475.22 L96.82 475.59 L97.63 475.95 L98.45 476.28 L99.28 476.60 L100.12 476.90 L100.96 477.18 L101.80 477.44 L102.65 477.70 L103.51 477.93 L104.36 478.16 L105.22 478.37 L106.09 478.58 L106.95 478.77 L107.82 478.95 L108.69 479.13 L109.56 479.30 L110.43 479.46 L111.30 479.61 L112.18 479.76 L113.05 479.90 L113.93 480.04 L114.80 480.17 L115.68 480.30 L116.56 480.42 L117.44 480.55 L118.32 480.66 L119.20 480.78 L120.07 480.89 L120.95 481.00 L121.83 481.11 L122.71 481.22 L123.59 481.32 L124.47 481.42 L125.36 481.52 L126.24 481.62 L127.12 481.72 L128.00 481.82 L128.88 481.91 L129.76 482.01 L130.64 482.10 L131.52 482.20 L132.41 482.29 L133.29 482.38 L134.17 482.47 L135.05 482.56 L135.93 482.65 L136.81 482.74 L137.70 482.83 L138.58 482.92 L139.46 483.01 L140.34 483.10 L141.22 483.19 L142.11 483.27 L142.99 483.36 L143.87 483.45 L144.75 483.54 L145.63 483.62 L146.52 483.71 L147.40 483.80 L148.28 483.88 L149.16 483.97 L150.05 484.06 L150.93 484.14 L151.81 484.23 L152.69 484.31 L153.57 484.40 L154.46 484.49 L155.34 484.57 L156.22 484.66 L157.10 484.74 L157.99 484.83 L158.87 484.92 L159.75 485.00 L160.63 485.09 L161.51 485.17 L162.40 485.26 L163.28 485.34 L164.16 485.43 L165.04 485.51 L165.93 485.60 L166.81 485.68 L167.69 485.77 L168.57 485.86 L169.46 485.94 L170.34 486.03 L171.22 486.11 L172.10 486.20 L172.98 486.28 L173.87 486.37 L174.75 486.45 L175.63 486.54 L176.51 486.62 L177.40 486.71 L178.28 486.79 L179.16 486.88 L180.04 486.96 L180.93 487.05 L181.81 487.13 L182.69 487.22 L183.57 487.30 L184.45 487.39 L185.34 487.48 L186.22 487.56 L187.10 487.65 L187.98 487.73 L188.87 487.82 L189.75 487.90 L190.63 487.99 L191.51 488.07 L192.40 488.16 L193.28 488.24 L194.16 488.33 L195.04 488.41 L195.92 488.50 L196.81 488.58 L197.69 488.67 L198.57 488.75 L199.45 488.84 L200.34 488.92 L201.22 489.01 L202.10 489.09 L202.98 489.18 L203.87 489.26 L204.75 489.35 L205.63 489.43 L206.51 489.52 L207.40 489.61 L208.28 489.69 L209.16 489.78 L210.04 489.86 L210.92 489.95 L211.81 490.03 L212.69 490.12 L213.57 490.20 L214.45 490.29 L215.34 490.37 L216.22 490.46 L217.10 490.54 L217.98 490.63 L218.87 490.71 L219.75 490.80 L220.63 490.88 L221.51 490.97 L222.39 491.05 L223.28 491.14 L224.16 491.22 L225.04 491.31 L225.92 491.39 L226.81 491.48 L227.69 491.56 L228.57 491.65 L229.45 491.73 L230.34 491.82 L231.22 491.91 L232.10 491.99" fill="none" stroke="#78cf86" stroke-width="1.4"/><rect x="57.40" y="520.50" width="4.40" height="4.40" fill="#0a0a0a"/><rect x="154.70" y="530.90" width="4.40" height="4.40" fill="#0a0a0a"/><rect x="178.50" y="532.30" width="4.40" height="4.40" fill="#0a0a0a"/><rect x="206.50" y="532.30" width="4.40" height="4.40" fill="#0a0a0a"/><rect x="227.10" y="532.30" width="4.40" height="4.40" fill="#0a0a0a"/><circle cx="60.30" cy="378.60" r="2.40" fill="#f0141e"/><circle cx="81.10" cy="528.00" r="2.40" fill="#f0141e"/><circle cx="89.10" cy="531.10" r="2.40" fill="#f0141e"/><circle cx="156.90" cy="538.70" r="2.40" fill="#f0141e"/><circle cx="180.70" cy="539.30" r="2.40" fill="#f0141e"/><circle cx="208.70" cy="540.60" r="2.40" fill="#f0141e"/><circle cx="229.30" cy="540.20" r="2.40" fill="#f0141e"/><polygon points="60.10,557.30 56.90,562.90 63.30,562.90" fill="#1428e6"/><polygon points="81.30,528.30 78.10,533.90 84.50,533.90" fill="#1428e6"/><polygon points="89.10,530.70 85.90,536.30 92.30,536.30" fill="#1428e6"/><polygon points="156.90,538.90 153.70,544.50 160.10,544.50" fill="#1428e6"/><polygon points="180.70,539.30 177.50,544.90 183.90,544.90" fill="#1428e6"/><polygon points="208.70,540.30 205.50,545.90 211.90,545.90" fill="#1428e6"/><polygon points="229.30,540.30 226.10,545.90 232.50,545.90" fill="#1428e6"/><polygon points="57.40,329.80 63.60,329.80 60.50,334.80" fill="#1b7f34"/><polygon points="78.20,459.80 84.40,459.80 81.30,464.80" fill="#1b7f34"/><polygon points="86.00,465.80 92.20,465.80 89.10,470.80" fill="#1b7f34"/><polygon points="153.80,484.40 160.00,484.40 156.90,489.40" fill="#1b7f34"/><polygon points="177.60,486.30 183.80,486.30 180.70,491.30" fill="#1b7f34"/><polygon points="205.60,487.80 211.80,487.80 208.70,492.80" fill="#1b7f34"/><polygon points="226.50,487.80 232.70,487.80 229.60,492.80" fill="#1b7f34"/><rect x="47.90" y="313.10" width="196.60" height="251.40" fill="none" stroke="#151515" stroke-width="1.6"/><path d="M47.90 546.54h3.8M47.90 528.59h3.8M47.90 510.63h3.8M47.90 492.67h3.8M47.90 474.71h3.8M47.90 456.76h3.8M47.90 438.80h3.8M47.90 420.84h3.8M47.90 402.89h3.8M47.90 384.93h3.8M47.90 366.97h3.8M47.90 349.01h3.8M47.90 331.06h3.8M47.90 555.52h2.2M47.90 537.56h2.2M47.90 519.61h2.2M47.90 501.65h2.2M47.90 483.69h2.2M47.90 465.74h2.2M47.90 447.78h2.2M47.90 429.82h2.2M47.90 411.86h2.2M47.90 393.91h2.2M47.90 375.95h2.2M47.90 357.99h2.2M47.90 340.04h2.2M47.90 322.08h2.2M60.60 564.50v-3.8M85.18 564.50v-3.8M109.75 564.50v-3.8M134.32 564.50v-3.8M158.90 564.50v-3.8M183.47 564.50v-3.8M208.05 564.50v-3.8M232.62 564.50v-3.8M72.89 564.50v-2.2M97.46 564.50v-2.2M122.04 564.50v-2.2M146.61 564.50v-2.2M171.19 564.50v-2.2M195.76 564.50v-2.2M220.34 564.50v-2.2" stroke="#151515" stroke-width="1.2" fill="none"/><text transform="translate(43.40 566.50) scale(0.92 1)" class="tl" text-anchor="end">0</text><text transform="translate(43.40 548.54) scale(0.92 1)" class="tl" text-anchor="end">200</text><text transform="translate(43.40 530.59) scale(0.92 1)" class="tl" text-anchor="end">400</text><text transform="translate(43.40 512.63) scale(0.92 1)" class="tl" text-anchor="end">600</text><text transform="translate(43.40 494.67) scale(0.92 1)" class="tl" text-anchor="end">800</text><text transform="translate(43.40 476.71) scale(0.92 1)" class="tl" text-anchor="end">1000</text><text transform="translate(43.40 458.76) scale(0.92 1)" class="tl" text-anchor="end">1200</text><text transform="translate(43.40 440.80) scale(0.92 1)" class="tl" text-anchor="end">1400</text><text transform="translate(43.40 422.84) scale(0.92 1)" class="tl" text-anchor="end">1600</text><text transform="translate(43.40 404.89) scale(0.92 1)" class="tl" text-anchor="end">1800</text><text transform="translate(43.40 386.93) scale(0.92 1)" class="tl" text-anchor="end">2000</text><text transform="translate(43.40 368.97) scale(0.92 1)" class="tl" text-anchor="end">2200</text><text transform="translate(43.40 351.01) scale(0.92 1)" class="tl" text-anchor="end">2400</text><text transform="translate(43.40 333.06) scale(0.92 1)" class="tl" text-anchor="end">2600</text><text transform="translate(43.40 315.10) scale(0.92 1)" class="tl" text-anchor="end">2800</text><text transform="translate(60.60 575.50) scale(0.92 1)" class="tl" text-anchor="middle">0.00</text><text transform="translate(85.18 575.50) scale(0.92 1)" class="tl" text-anchor="middle">0.05</text><text transform="translate(109.75 575.50) scale(0.92 1)" class="tl" text-anchor="middle">0.10</text><text transform="translate(134.32 575.50) scale(0.92 1)" class="tl" text-anchor="middle">0.15</text><text transform="translate(158.90 575.50) scale(0.92 1)" class="tl" text-anchor="middle">0.20</text><text transform="translate(183.47 575.50) scale(0.92 1)" class="tl" text-anchor="middle">0.25</text><text transform="translate(208.05 575.50) scale(0.92 1)" class="tl" text-anchor="middle">0.30</text><text transform="translate(232.62 575.50) scale(0.92 1)" class="tl" text-anchor="middle">0.35</text><text x="0.70" y="313.60" class="pl" style="font-size:16px">(d)</text><text transform="translate(14.20 438.30) rotate(-90)" class="al" style="font-size:15px" text-anchor="middle" textLength="104.3" lengthAdjust="spacingAndGlyphs">Pressure drop(Pa)</text><text x="118.30" y="598.90" class="al" style="font-size:14px" textLength="57.7" lengthAdjust="spacingAndGlyphs">Ci (kg/m<tspan class="sup" dy="-6.5">3</tspan><tspan dy="6.5">)</tspan></text><rect x="211.10" y="325.60" width="7.00" height="7.00" fill="#0a0a0a"/><text x="228.80" y="331.70" class="lg">P1</text><circle cx="214.60" cy="340.80" r="4.30" fill="#f0141e"/><text x="228.80" y="344.80" class="lg">P2</text><polygon points="214.60,348.60 209.70,357.00 219.50,357.00" fill="#1428e6"/><text x="228.80" y="356.70" class="lg">P3</text><polygon points="209.70,363.10 219.50,363.10 214.60,371.90" fill="#1b7f34"/><text x="228.80" y="368.60" class="lg">P</text></g>
<g><path d="M323.42 539.02 L323.85 539.05 L324.28 539.07 L324.71 539.09 L325.14 539.11 L325.57 539.14 L326.00 539.16 L326.43 539.18 L326.87 539.20 L327.30 539.22 L327.73 539.25 L328.16 539.27 L328.59 539.29 L329.02 539.31 L329.45 539.33 L329.88 539.36 L330.31 539.38 L330.74 539.40 L331.18 539.42 L331.61 539.44 L332.04 539.46 L332.47 539.49 L332.90 539.51 L333.33 539.53 L333.76 539.55 L334.19 539.57 L334.62 539.59 L335.05 539.61 L335.49 539.63 L335.92 539.66 L336.35 539.68 L336.78 539.70 L337.21 539.72 L337.64 539.74 L338.07 539.76 L338.50 539.78 L338.93 539.80 L339.37 539.82 L339.80 539.84 L340.23 539.86 L340.66 539.89 L341.09 539.91 L341.52 539.93 L341.95 539.95 L342.38 539.97 L342.81 539.99 L343.25 540.01 L343.68 540.03 L344.11 540.05 L344.54 540.07 L344.97 540.09 L345.40 540.11 L345.83 540.13 L346.26 540.15 L346.69 540.17 L347.13 540.19 L347.56 540.21 L347.99 540.23 L348.42 540.25 L348.85 540.27 L349.28 540.29 L349.71 540.31 L350.14 540.33 L350.57 540.35 L351.01 540.37 L351.44 540.39 L351.87 540.41 L352.30 540.43 L352.73 540.45 L353.16 540.47 L353.59 540.49 L354.02 540.50 L354.45 540.52 L354.89 540.54 L355.32 540.56 L355.75 540.58 L356.18 540.60 L356.61 540.62 L357.04 540.64 L357.47 540.66 L357.90 540.68 L358.34 540.70 L358.77 540.71 L359.20 540.73 L359.63 540.75 L360.06 540.77 L360.49 540.79 L360.92 540.81 L361.35 540.83 L361.78 540.84 L362.22 540.86 L362.65 540.88 L363.08 540.90 L363.51 540.92 L363.94 540.94 L364.37 540.95 L364.80 540.97 L365.23 540.99 L365.67 541.01 L366.10 541.03 L366.53 541.05 L366.96 541.06 L367.39 541.08 L367.82 541.10 L368.25 541.12 L368.68 541.13 L369.12 541.15 L369.55 541.17 L369.98 541.19 L370.41 541.21 L370.84 541.22 L371.27 541.24 L371.70 541.26 L372.13 541.28 L372.57 541.29 L373.00 541.31 L373.43 541.33 L373.86 541.35 L374.29 541.36 L374.72 541.38 L375.15 541.40 L375.58 541.41 L376.02 541.43 L376.45 541.45 L376.88 541.47 L377.31 541.48 L377.74 541.50 L378.17 541.52 L378.60 541.53 L379.03 541.55 L379.47 541.57 L379.90 541.58 L380.33 541.60 L380.76 541.62 L381.19 541.63 L381.62 541.65 L382.05 541.67 L382.48 541.68 L382.92 541.70 L383.35 541.72 L383.78 541.73 L384.21 541.75 L384.64 541.76 L385.07 541.78 L385.50 541.80 L385.93 541.81 L386.37 541.83 L386.80 541.84 L387.23 541.86 L387.66 541.88 L388.09 541.89 L388.52 541.91 L388.95 541.92 L389.38 541.94 L389.82 541.96 L390.25 541.97 L390.68 541.99 L391.11 542.00 L391.54 542.02 L391.97 542.03 L392.40 542.05 L392.84 542.06 L393.27 542.08 L393.70 542.09 L394.13 542.11 L394.56 542.13 L394.99 542.14 L395.42 542.16 L395.85 542.17 L396.29 542.19 L396.72 542.20 L397.15 542.22 L397.58 542.23 L398.01 542.25 L398.44 542.26 L398.87 542.28 L399.30 542.29 L399.74 542.31 L400.17 542.32 L400.60 542.33 L401.03 542.35 L401.46 542.36 L401.89 542.38 L402.32 542.39 L402.76 542.41 L403.19 542.42 L403.62 542.44 L404.05 542.45 L404.48 542.46 L404.91 542.48 L405.34 542.49 L405.78 542.51 L406.21 542.52 L406.64 542.53 L407.07 542.55 L407.50 542.56 L407.93 542.58 L408.36 542.59 L408.79 542.60 L409.23 542.62 L409.66 542.63 L410.09 542.65 L410.52 542.66 L410.95 542.67 L411.38 542.69 L411.81 542.70 L412.25 542.71 L412.68 542.73 L413.11 542.74 L413.54 542.75 L413.97 542.77 L414.40 542.78 L414.83 542.79 L415.27 542.81 L415.70 542.82 L416.13 542.83 L416.56 542.85 L416.99 542.86 L417.42 542.87 L417.85 542.89 L418.29 542.90 L418.72 542.91 L419.15 542.92 L419.58 542.94 L420.01 542.95 L420.44 542.96 L420.87 542.97 L421.30 542.99 L421.74 543.00 L422.17 543.01 L422.60 543.02 L423.03 543.04 L423.46 543.05 L423.89 543.06 L424.32 543.07 L424.76 543.09 L425.19 543.10 L425.62 543.11 L426.05 543.12 L426.48 543.13 L426.91 543.15 L427.34 543.16 L427.78 543.17 L428.21 543.18 L428.64 543.19 L429.07 543.21 L429.50 543.22 L429.93 543.23 L430.36 543.24 L430.80 543.25 L431.23 543.27 L431.66 543.28 L432.09 543.29 L432.52 543.30 L432.95 543.31 L433.38 543.32 L433.82 543.33 L434.25 543.35 L434.68 543.36 L435.11 543.37 L435.54 543.38 L435.97 543.39 L436.40 543.40 L436.84 543.41 L437.27 543.42 L437.70 543.43 L438.13 543.45 L438.56 543.46 L438.99 543.47 L439.42 543.48 L439.86 543.49 L440.29 543.50 L440.72 543.51 L441.15 543.52 L441.58 543.53 L442.01 543.54 L442.45 543.55 L442.88 543.56 L443.31 543.57 L443.74 543.58 L444.17 543.59 L444.60 543.60 L445.03 543.61 L445.47 543.63 L445.90 543.64 L446.33 543.65 L446.76 543.66 L447.19 543.67 L447.62 543.68 L448.05 543.69 L448.49 543.70 L448.92 543.71 L449.35 543.72 L449.78 543.73 L450.21 543.73 L450.64 543.74 L451.07 543.75 L451.51 543.76 L451.94 543.77 L452.37 543.78 L452.80 543.79 L453.23 543.80 L453.66 543.81 L454.09 543.82 L454.53 543.83 L454.96 543.84 L455.39 543.85 L455.82 543.86 L456.25 543.87 L456.68 543.88 L457.12 543.89 L457.55 543.89 L457.98 543.90 L458.41 543.91 L458.84 543.92 L459.27 543.93 L459.70 543.94 L460.14 543.95 L460.57 543.96 L461.00 543.97 L461.43 543.97 L461.86 543.98 L462.29 543.99 L462.72 544.00 L463.16 544.01 L463.59 544.02 L464.02 544.03 L464.45 544.03 L464.88 544.04 L465.31 544.05 L465.75 544.06 L466.18 544.07 L466.61 544.08 L467.04 544.08 L467.47 544.09 L467.90 544.10 L468.33 544.11 L468.77 544.12 L469.20 544.12 L469.63 544.13 L470.06 544.14 L470.49 544.15 L470.92 544.15 L471.35 544.16 L471.79 544.17 L472.22 544.18 L472.65 544.19 L473.08 544.19 L473.51 544.20 L473.94 544.21 L474.38 544.22 L474.81 544.22 L475.24 544.23 L475.67 544.24 L476.10 544.24 L476.53 544.25 L476.96 544.26 L477.40 544.27 L477.83 544.27 L478.26 544.28 L478.69 544.29 L479.12 544.29 L479.55 544.30 L479.99 544.31 L480.42 544.32 L480.85 544.32 L481.28 544.33 L481.71 544.34 L482.14 544.34 L482.57 544.35 L483.01 544.36 L483.44 544.36 L483.87 544.37 L484.30 544.38 L484.73 544.38 L485.16 544.39 L485.60 544.39 L486.03 544.40 L486.46 544.41 L486.89 544.41 L487.32 544.42 L487.75 544.43 L488.18 544.43 L488.62 544.44 L489.05 544.44 L489.48 544.45 L489.91 544.46 L490.34 544.46 L490.77 544.47 L491.21 544.47 L491.64 544.48 L492.07 544.48 L492.50 544.49" fill="none" stroke="#646b66" stroke-width="1.4"/><path d="M323.42 561.30 L323.85 561.30 L324.28 561.30 L324.71 561.30 L325.14 561.30 L325.58 561.30 L326.01 561.30 L326.44 561.30 L326.87 561.30 L327.30 561.30 L327.73 561.30 L328.16 561.30 L328.60 561.30 L329.03 561.30 L329.46 561.30 L329.89 561.30 L330.32 561.30 L330.75 561.30 L331.18 561.30 L331.61 561.30 L332.05 561.30 L332.48 561.30 L332.91 561.30 L333.34 561.30 L333.77 561.30 L334.20 561.30 L334.63 561.30 L335.07 561.30 L335.50 561.30 L335.93 561.30 L336.36 561.30 L336.79 561.30 L337.22 561.30 L337.65 561.30 L338.08 561.30 L338.52 561.30 L338.95 561.30 L339.38 561.30 L339.81 561.30 L340.24 561.30 L340.67 561.30 L341.10 561.30 L341.54 561.30 L341.97 561.30 L342.40 561.30 L342.83 561.30 L343.26 561.30 L343.69 561.30 L344.12 561.30 L344.55 561.30 L344.99 561.30 L345.42 561.30 L345.85 561.30 L346.28 561.30 L346.71 561.30 L347.14 561.30 L347.57 561.30 L348.01 561.30 L348.44 561.30 L348.87 561.30 L349.30 561.30 L349.73 561.30 L350.16 561.30 L350.59 561.30 L351.02 561.30 L351.46 561.30 L351.89 561.30 L352.32 561.30 L352.75 561.30 L353.18 561.30 L353.61 561.30 L354.04 561.30 L354.47 561.30 L354.91 561.30 L355.34 561.30 L355.77 561.30 L356.20 561.30 L356.63 561.30 L357.06 561.30 L357.49 561.30 L357.93 561.30 L358.36 561.30 L358.79 561.30 L359.22 561.30 L359.65 561.30 L360.08 561.30 L360.51 561.30 L360.94 561.30 L361.38 561.30 L361.81 561.30 L362.24 561.30 L362.67 561.30 L363.10 561.30 L363.53 561.30 L363.96 561.30 L364.40 561.30 L364.83 561.30 L365.26 561.30 L365.69 561.30 L366.12 561.30 L366.55 561.30 L366.98 561.30 L367.41 561.30 L367.85 561.30 L368.28 561.30 L368.71 561.30 L369.14 561.30 L369.57 561.30 L370.00 561.30 L370.43 561.30 L370.87 561.30 L371.30 561.30 L371.73 561.30 L372.16 561.30 L372.59 561.30 L373.02 561.30 L373.45 561.30 L373.88 561.30 L374.32 561.30 L374.75 561.30 L375.18 561.30 L375.61 561.30 L376.04 561.30 L376.47 561.30 L376.90 561.30 L377.34 561.30 L377.77 561.30 L378.20 561.30 L378.63 561.30 L379.06 561.30 L379.49 561.30 L379.92 561.30 L380.35 561.30 L380.79 561.30 L381.22 561.30 L381.65 561.30 L382.08 561.30 L382.51 561.30 L382.94 561.30 L383.37 561.30 L383.81 561.30 L384.24 561.30 L384.67 561.30 L385.10 561.30 L385.53 561.30 L385.96 561.30 L386.39 561.30 L386.82 561.30 L387.26 561.30 L387.69 561.30 L388.12 561.30 L388.55 561.30 L388.98 561.30 L389.41 561.30 L389.84 561.30 L390.28 561.30 L390.71 561.30 L391.14 561.30 L391.57 561.30 L392.00 561.30 L392.43 561.30 L392.86 561.30 L393.29 561.30 L393.73 561.30 L394.16 561.30 L394.59 561.30 L395.02 561.30 L395.45 561.30 L395.88 561.30 L396.31 561.30 L396.75 561.30 L397.18 561.30 L397.61 561.30 L398.04 561.30 L398.47 561.30 L398.90 561.30 L399.33 561.30 L399.76 561.30 L400.20 561.30 L400.63 561.30 L401.06 561.30 L401.49 561.30 L401.92 561.30 L402.35 561.30 L402.78 561.30 L403.22 561.30 L403.65 561.30 L404.08 561.30 L404.51 561.30 L404.94 561.30 L405.37 561.30 L405.80 561.30 L406.23 561.30 L406.67 561.30 L407.10 561.30 L407.53 561.30 L407.96 561.30 L408.39 561.30 L408.82 561.30 L409.25 561.30 L409.68 561.30 L410.12 561.30 L410.55 561.30 L410.98 561.30 L411.41 561.30 L411.84 561.30 L412.27 561.30 L412.70 561.30 L413.14 561.30 L413.57 561.30 L414.00 561.30 L414.43 561.30 L414.86 561.30 L415.29 561.30 L415.72 561.30 L416.15 561.30 L416.59 561.30 L417.02 561.30 L417.45 561.30 L417.88 561.30 L418.31 561.30 L418.74 561.30 L419.17 561.30 L419.61 561.30 L420.04 561.30 L420.47 561.30 L420.90 561.30 L421.33 561.30 L421.76 561.30 L422.19 561.30 L422.62 561.30 L423.06 561.30 L423.49 561.30 L423.92 561.30 L424.35 561.30 L424.78 561.30 L425.21 561.30 L425.64 561.30 L426.08 561.30 L426.51 561.30 L426.94 561.30 L427.37 561.30 L427.80 561.30 L428.23 561.30 L428.66 561.30 L429.09 561.30 L429.53 561.30 L429.96 561.30 L430.39 561.30 L430.82 561.30 L431.25 561.30 L431.68 561.30 L432.11 561.30 L432.55 561.30 L432.98 561.30 L433.41 561.30 L433.84 561.30 L434.27 561.30 L434.70 561.30 L435.13 561.30 L435.56 561.30 L436.00 561.30 L436.43 561.30 L436.86 561.30 L437.29 561.30 L437.72 561.30 L438.15 561.30 L438.58 561.30 L439.02 561.30 L439.45 561.30 L439.88 561.30 L440.31 561.30 L440.74 561.30 L441.17 561.30 L441.60 561.30 L442.03 561.30 L442.47 561.30 L442.90 561.30 L443.33 561.30 L443.76 561.30 L444.19 561.30 L444.62 561.30 L445.05 561.30 L445.49 561.30 L445.92 561.30 L446.35 561.30 L446.78 561.30 L447.21 561.30 L447.64 561.30 L448.07 561.30 L448.50 561.30 L448.94 561.30 L449.37 561.30 L449.80 561.30 L450.23 561.30 L450.66 561.30 L451.09 561.30 L451.52 561.30 L451.96 561.30 L452.39 561.30 L452.82 561.30 L453.25 561.30 L453.68 561.30 L454.11 561.30 L454.54 561.30 L454.97 561.30 L455.41 561.30 L455.84 561.30 L456.27 561.30 L456.70 561.30 L457.13 561.30 L457.56 561.30 L457.99 561.30 L458.43 561.30 L458.86 561.30 L459.29 561.30 L459.72 561.30 L460.15 561.30 L460.58 561.30 L461.01 561.30 L461.44 561.30 L461.88 561.30 L462.31 561.30 L462.74 561.30 L463.17 561.30 L463.60 561.30 L464.03 561.30 L464.46 561.30 L464.89 561.30 L465.33 561.30 L465.76 561.30 L466.19 561.30 L466.62 561.30 L467.05 561.30 L467.48 561.30 L467.91 561.30 L468.35 561.30 L468.78 561.30 L469.21 561.30 L469.64 561.30 L470.07 561.30 L470.50 561.30 L470.93 561.30 L471.36 561.30 L471.80 561.30 L472.23 561.30 L472.66 561.30 L473.09 561.30 L473.52 561.30 L473.95 561.30 L474.38 561.30 L474.82 561.30 L475.25 561.30 L475.68 561.30 L476.11 561.30 L476.54 561.30 L476.97 561.30 L477.40 561.30 L477.83 561.30 L478.27 561.30 L478.70 561.30 L479.13 561.30 L479.56 561.30 L479.99 561.30 L480.42 561.30 L480.85 561.30 L481.29 561.30 L481.72 561.30 L482.15 561.30 L482.58 561.30 L483.01 561.30 L483.44 561.30 L483.87 561.30 L484.30 561.30 L484.74 561.30 L485.17 561.30 L485.60 561.30 L486.03 561.30 L486.46 561.30 L486.89 561.30 L487.32 561.30 L487.76 561.30 L488.19 561.30 L488.62 561.30 L489.05 561.30 L489.48 561.30 L489.91 561.30 L490.34 561.30 L490.77 561.30 L491.21 561.30 L491.64 561.30 L492.07 561.30 L492.50 561.30" fill="none" stroke="#6474da" stroke-width="1.3"/><path d="M324.71 371.84 L324.84 372.54 L324.97 373.23 L325.11 373.92 L325.25 374.62 L325.38 375.31 L325.52 376.00 L325.66 376.70 L325.79 377.39 L325.93 378.08 L326.07 378.78 L326.21 379.47 L326.35 380.16 L326.49 380.86 L326.63 381.55 L326.78 382.24 L326.92 382.93 L327.06 383.62 L327.21 384.32 L327.35 385.01 L327.50 385.70 L327.65 386.39 L327.79 387.08 L327.94 387.77 L328.09 388.46 L328.24 389.16 L328.39 389.85 L328.54 390.54 L328.69 391.23 L328.84 391.92 L329.00 392.61 L329.15 393.30 L329.30 393.99 L329.46 394.68 L329.61 395.37 L329.77 396.06 L329.93 396.74 L330.09 397.43 L330.25 398.12 L330.41 398.81 L330.57 399.50 L330.73 400.19 L330.89 400.87 L331.06 401.56 L331.22 402.25 L331.38 402.94 L331.55 403.62 L331.72 404.31 L331.88 405.00 L332.05 405.68 L332.22 406.37 L332.39 407.06 L332.56 407.74 L332.74 408.43 L332.91 409.11 L333.08 409.80 L333.26 410.48 L333.44 411.17 L333.61 411.85 L333.79 412.53 L333.97 413.22 L334.15 413.90 L334.33 414.58 L334.51 415.27 L334.70 415.95 L334.88 416.63 L335.07 417.31 L335.25 418.00 L335.44 418.68 L335.63 419.36 L335.82 420.04 L336.01 420.72 L336.20 421.40 L336.40 422.08 L336.59 422.76 L336.79 423.44 L336.98 424.12 L337.18 424.80 L337.38 425.47 L337.58 426.15 L337.78 426.83 L337.99 427.51 L338.19 428.18 L338.40 428.86 L338.60 429.54 L338.81 430.21 L339.02 430.89 L339.23 431.56 L339.44 432.23 L339.66 432.91 L339.87 433.58 L340.09 434.25 L340.31 434.93 L340.53 435.60 L340.75 436.27 L340.97 436.94 L341.19 437.61 L341.42 438.28 L341.65 438.95 L341.87 439.62 L342.10 440.29 L342.34 440.96 L342.57 441.62 L342.81 442.29 L343.04 442.96 L343.28 443.62 L343.52 444.29 L343.76 444.95 L344.01 445.61 L344.25 446.28 L344.50 446.94 L344.75 447.60 L345.00 448.26 L345.25 448.92 L345.50 449.58 L345.76 450.24 L346.02 450.90 L346.28 451.55 L346.54 452.21 L346.81 452.87 L347.07 453.52 L347.34 454.17 L347.61 454.83 L347.88 455.48 L348.16 456.13 L348.44 456.78 L348.72 457.43 L349.00 458.08 L349.28 458.73 L349.57 459.37 L349.85 460.02 L350.15 460.66 L350.44 461.31 L350.73 461.95 L351.03 462.59 L351.33 463.23 L351.63 463.87 L351.94 464.50 L352.25 465.14 L352.56 465.78 L352.87 466.41 L353.19 467.04 L353.51 467.67 L353.83 468.30 L354.15 468.93 L354.48 469.56 L354.81 470.18 L355.14 470.81 L355.47 471.43 L355.81 472.05 L356.15 472.67 L356.50 473.28 L356.85 473.90 L357.20 474.51 L357.55 475.13 L357.91 475.74 L358.27 476.34 L358.63 476.95 L359.00 477.56 L359.37 478.16 L359.74 478.76 L360.12 479.36 L360.50 479.95 L360.88 480.55 L361.27 481.14 L361.66 481.73 L362.05 482.31 L362.45 482.90 L362.85 483.48 L363.26 484.06 L363.66 484.63 L364.08 485.21 L364.49 485.78 L364.91 486.35 L365.34 486.91 L365.76 487.48 L366.20 488.04 L366.63 488.59 L367.07 489.15 L367.52 489.70 L367.96 490.24 L368.41 490.79 L368.87 491.33 L369.33 491.86 L369.79 492.40 L370.26 492.93 L370.73 493.45 L371.21 493.98 L371.69 494.49 L372.17 495.01 L372.66 495.52 L373.16 496.03 L373.65 496.53 L374.15 497.03 L374.66 497.52 L375.17 498.01 L375.68 498.50 L376.20 498.98 L376.72 499.45 L377.25 499.93 L377.78 500.39 L378.31 500.86 L378.85 501.31 L379.39 501.77 L379.94 502.22 L380.49 502.66 L381.05 503.10 L381.60 503.53 L382.17 503.96 L382.73 504.38 L383.30 504.80 L383.88 505.21 L384.45 505.62 L385.03 506.02 L385.62 506.42 L386.21 506.81 L386.80 507.20 L387.39 507.58 L387.99 507.96 L388.59 508.33 L389.20 508.69 L389.81 509.05 L390.42 509.41 L391.03 509.76 L391.65 510.10 L392.27 510.44 L392.89 510.77 L393.52 511.10 L394.15 511.42 L394.78 511.74 L395.42 512.05 L396.05 512.36 L396.69 512.66 L397.33 512.96 L397.98 513.25 L398.62 513.53 L399.27 513.81 L399.92 514.09 L400.58 514.36 L401.23 514.63 L401.89 514.89 L402.55 515.14 L403.21 515.40 L403.87 515.64 L404.53 515.88 L405.20 516.12 L405.87 516.35 L406.54 516.58 L407.21 516.81 L407.88 517.03 L408.55 517.24 L409.23 517.45 L409.90 517.66 L410.58 517.86 L411.26 518.06 L411.94 518.26 L412.62 518.45 L413.30 518.63 L413.98 518.82 L414.66 519.00 L415.35 519.17 L416.03 519.34 L416.72 519.51 L417.41 519.68 L418.10 519.84 L418.79 520.00 L419.47 520.15 L420.17 520.30 L420.86 520.45 L421.55 520.60 L422.24 520.74 L422.93 520.88 L423.63 521.02 L424.32 521.15 L425.02 521.28 L425.71 521.41 L426.41 521.53 L427.10 521.66 L427.80 521.78 L428.50 521.89 L429.19 522.01 L429.89 522.12 L430.59 522.23 L431.29 522.34 L431.99 522.45 L432.69 522.55 L433.38 522.65 L434.08 522.75 L434.78 522.85 L435.48 522.94 L436.19 523.04 L436.89 523.13 L437.59 523.22 L438.29 523.30 L438.99 523.39 L439.69 523.47 L440.39 523.55 L441.10 523.63 L441.80 523.71 L442.50 523.79 L443.20 523.87 L443.91 523.94 L444.61 524.01 L445.31 524.08 L446.02 524.15 L446.72 524.22 L447.42 524.29 L448.13 524.35 L448.83 524.42 L449.54 524.48 L450.24 524.54 L450.94 524.60 L451.65 524.66 L452.35 524.72 L453.06 524.77 L453.76 524.83 L454.47 524.88 L455.17 524.94 L455.88 524.99 L456.58 525.04 L457.29 525.09 L457.99 525.14 L458.70 525.19 L459.40 525.23 L460.11 525.28 L460.81 525.33 L461.52 525.37 L462.22 525.42 L462.93 525.46 L463.63 525.50 L464.34 525.54 L465.05 525.58 L465.75 525.62 L466.46 525.66 L467.16 525.70 L467.87 525.74 L468.57 525.77 L469.28 525.81 L469.99 525.85 L470.69 525.88 L471.40 525.92 L472.10 525.95 L472.81 525.98 L473.52 526.01 L474.22 526.05 L474.93 526.08 L475.63 526.11 L476.34 526.14 L477.05 526.17 L477.75 526.20 L478.46 526.23 L479.17 526.26 L479.87 526.28 L480.58 526.31 L481.28 526.34 L481.99 526.37 L482.70 526.39 L483.40 526.42 L484.11 526.44 L484.82 526.47 L485.52 526.49 L486.23 526.52 L486.94 526.54 L487.64 526.56 L488.35 526.59 L489.05 526.61 L489.76 526.63 L490.47 526.65 L491.17 526.68 L491.88 526.70 L492.59 526.72 L493.29 526.74 L494.00 526.76" fill="none" stroke="#cc73a0" stroke-width="1.3"/><path d="M324.62 343.54 L324.76 344.23 L324.91 344.92 L325.05 345.62 L325.20 346.31 L325.35 347.00 L325.49 347.69 L325.64 348.38 L325.79 349.07 L325.94 349.76 L326.09 350.45 L326.24 351.14 L326.40 351.83 L326.55 352.52 L326.70 353.21 L326.85 353.90 L327.01 354.59 L327.16 355.28 L327.32 355.97 L327.48 356.66 L327.63 357.35 L327.79 358.04 L327.95 358.72 L328.11 359.41 L328.27 360.10 L328.43 360.79 L328.59 361.48 L328.75 362.16 L328.91 362.85 L329.08 363.54 L329.24 364.23 L329.40 364.91 L329.57 365.60 L329.74 366.29 L329.90 366.97 L330.07 367.66 L330.24 368.35 L330.41 369.03 L330.58 369.72 L330.75 370.40 L330.92 371.09 L331.09 371.78 L331.27 372.46 L331.44 373.14 L331.62 373.83 L331.79 374.51 L331.97 375.20 L332.15 375.88 L332.32 376.57 L332.50 377.25 L332.68 377.93 L332.86 378.62 L333.05 379.30 L333.23 379.98 L333.41 380.66 L333.60 381.35 L333.78 382.03 L333.97 382.71 L334.15 383.39 L334.34 384.07 L334.53 384.75 L334.72 385.43 L334.91 386.11 L335.11 386.79 L335.30 387.47 L335.49 388.15 L335.69 388.83 L335.88 389.51 L336.08 390.19 L336.28 390.87 L336.48 391.54 L336.68 392.22 L336.88 392.90 L337.08 393.58 L337.29 394.25 L337.49 394.93 L337.70 395.60 L337.90 396.28 L338.11 396.96 L338.32 397.63 L338.53 398.30 L338.74 398.98 L338.96 399.65 L339.17 400.33 L339.39 401.00 L339.60 401.67 L339.82 402.34 L340.04 403.02 L340.26 403.69 L340.48 404.36 L340.70 405.03 L340.93 405.70 L341.15 406.37 L341.38 407.04 L341.61 407.71 L341.84 408.37 L342.07 409.04 L342.30 409.71 L342.53 410.38 L342.77 411.04 L343.01 411.71 L343.24 412.37 L343.48 413.04 L343.72 413.70 L343.97 414.37 L344.21 415.03 L344.45 415.69 L344.70 416.35 L344.95 417.02 L345.20 417.68 L345.45 418.34 L345.71 419.00 L345.96 419.66 L346.22 420.31 L346.48 420.97 L346.74 421.63 L347.00 422.28 L347.26 422.94 L347.53 423.60 L347.79 424.25 L348.06 424.90 L348.33 425.56 L348.60 426.21 L348.88 426.86 L349.16 427.51 L349.43 428.16 L349.71 428.81 L350.00 429.46 L350.28 430.10 L350.56 430.75 L350.85 431.39 L351.14 432.04 L351.43 432.68 L351.73 433.32 L352.02 433.97 L352.32 434.61 L352.62 435.25 L352.93 435.88 L353.23 436.52 L353.54 437.16 L353.85 437.79 L354.16 438.43 L354.47 439.06 L354.79 439.69 L355.11 440.32 L355.43 440.95 L355.75 441.58 L356.08 442.21 L356.41 442.83 L356.74 443.46 L357.07 444.08 L357.41 444.70 L357.74 445.32 L358.09 445.94 L358.43 446.56 L358.78 447.17 L359.13 447.79 L359.48 448.40 L359.83 449.01 L360.19 449.62 L360.55 450.23 L360.91 450.84 L361.28 451.44 L361.65 452.04 L362.02 452.64 L362.39 453.24 L362.77 453.84 L363.15 454.44 L363.54 455.03 L363.92 455.62 L364.31 456.21 L364.71 456.80 L365.10 457.38 L365.50 457.96 L365.90 458.54 L366.31 459.12 L366.72 459.70 L367.13 460.27 L367.55 460.84 L367.97 461.41 L368.39 461.98 L368.82 462.54 L369.25 463.10 L369.68 463.66 L370.12 464.22 L370.56 464.77 L371.00 465.32 L371.45 465.87 L371.90 466.41 L372.35 466.95 L372.81 467.49 L373.27 468.02 L373.74 468.55 L374.21 469.08 L374.68 469.61 L375.16 470.13 L375.64 470.65 L376.12 471.16 L376.61 471.67 L377.10 472.18 L377.60 472.69 L378.10 473.19 L378.60 473.68 L379.11 474.17 L379.62 474.66 L380.13 475.15 L380.65 475.63 L381.17 476.10 L381.70 476.58 L382.22 477.05 L382.76 477.51 L383.29 477.97 L383.83 478.42 L384.38 478.87 L384.93 479.32 L385.48 479.76 L386.03 480.20 L386.59 480.63 L387.15 481.06 L387.72 481.48 L388.29 481.90 L388.86 482.32 L389.44 482.72 L390.02 483.13 L390.60 483.53 L391.19 483.92 L391.78 484.31 L392.37 484.69 L392.97 485.07 L393.57 485.45 L394.17 485.82 L394.77 486.18 L395.38 486.54 L395.99 486.89 L396.61 487.24 L397.23 487.59 L397.85 487.92 L398.47 488.26 L399.09 488.59 L399.72 488.91 L400.35 489.23 L400.99 489.54 L401.62 489.85 L402.26 490.15 L402.90 490.45 L403.55 490.74 L404.19 491.03 L404.84 491.31 L405.49 491.59 L406.14 491.86 L406.79 492.13 L407.45 492.39 L408.11 492.65 L408.77 492.90 L409.43 493.15 L410.09 493.39 L410.76 493.63 L411.42 493.87 L412.09 494.10 L412.76 494.32 L413.43 494.54 L414.11 494.76 L414.78 494.97 L415.46 495.18 L416.13 495.38 L416.81 495.58 L417.49 495.77 L418.17 495.96 L418.85 496.15 L419.54 496.33 L420.22 496.51 L420.90 496.68 L421.59 496.85 L422.28 497.02 L422.96 497.18 L423.65 497.34 L424.34 497.49 L425.03 497.65 L425.72 497.79 L426.42 497.94 L427.11 498.08 L427.80 498.21 L428.49 498.35 L429.19 498.48 L429.88 498.61 L430.58 498.73 L431.28 498.85 L431.97 498.97 L432.67 499.08 L433.37 499.19 L434.07 499.30 L434.76 499.41 L435.46 499.51 L436.16 499.61 L436.86 499.71 L437.56 499.80 L438.26 499.89 L438.96 499.98 L439.67 500.07 L440.37 500.15 L441.07 500.23 L441.77 500.31 L442.47 500.39 L443.18 500.46 L443.88 500.54 L444.58 500.61 L445.29 500.67 L445.99 500.74 L446.69 500.80 L447.40 500.86 L448.10 500.92 L448.81 500.98 L449.51 501.04 L450.21 501.09 L450.92 501.14 L451.62 501.19 L452.33 501.24 L453.03 501.28 L453.74 501.33 L454.44 501.37 L455.15 501.41 L455.86 501.45 L456.56 501.49 L457.27 501.52 L457.97 501.56 L458.68 501.59 L459.38 501.62 L460.09 501.65 L460.80 501.68 L461.50 501.70 L462.21 501.73 L462.91 501.75 L463.62 501.78 L464.33 501.80 L465.03 501.82 L465.74 501.84 L466.45 501.85 L467.15 501.87 L467.86 501.89 L468.57 501.90 L469.27 501.91 L469.98 501.92 L470.68 501.94 L471.39 501.94 L472.10 501.95 L472.80 501.96 L473.51 501.97 L474.22 501.97 L474.92 501.98 L475.63 501.98 L476.34 501.98 L477.04 501.99 L477.75 501.99 L478.46 501.99 L479.16 501.98 L479.87 501.98 L480.58 501.98 L481.28 501.98 L481.99 501.97 L482.70 501.97 L483.40 501.96 L484.11 501.96 L484.82 501.95 L485.52 501.94 L486.23 501.93 L486.94 501.92 L487.64 501.91 L488.35 501.90 L489.05 501.89 L489.76 501.88 L490.47 501.87 L491.17 501.85 L491.88 501.84 L492.59 501.82 L493.29 501.81 L494.00 501.79" fill="none" stroke="#78cf86" stroke-width="1.4"/><rect x="321.20" y="536.90" width="4.40" height="4.40" fill="#0a0a0a"/><rect x="386.60" y="539.30" width="4.40" height="4.40" fill="#0a0a0a"/><rect x="455.80" y="542.20" width="4.40" height="4.40" fill="#0a0a0a"/><rect x="465.90" y="542.20" width="4.40" height="4.40" fill="#0a0a0a"/><rect x="490.30" y="541.80" width="4.40" height="4.40" fill="#0a0a0a"/><circle cx="323.50" cy="369.30" r="2.40" fill="#f0141e"/><circle cx="388.80" cy="507.40" r="2.40" fill="#f0141e"/><circle cx="458.00" cy="526.40" r="2.40" fill="#f0141e"/><circle cx="468.10" cy="522.90" r="2.40" fill="#f0141e"/><circle cx="492.50" cy="526.20" r="2.40" fill="#f0141e"/><polygon points="323.40,558.00 320.20,563.60 326.60,563.60" fill="#1428e6"/><polygon points="388.80,558.00 385.60,563.60 392.00,563.60" fill="#1428e6"/><polygon points="458.50,558.20 455.30,563.80 461.70,563.80" fill="#1428e6"/><polygon points="468.10,558.20 464.90,563.80 471.30,563.80" fill="#1428e6"/><polygon points="492.50,558.20 489.30,563.80 495.70,563.80" fill="#1428e6"/><polygon points="320.80,337.90 327.00,337.90 323.90,342.90" fill="#1b7f34"/><polygon points="385.70,479.80 391.90,479.80 388.80,484.80" fill="#1b7f34"/><polygon points="455.40,500.90 461.60,500.90 458.50,505.90" fill="#1b7f34"/><polygon points="465.00,497.80 471.20,497.80 468.10,502.80" fill="#1b7f34"/><polygon points="489.40,499.70 495.60,499.70 492.50,504.70" fill="#1b7f34"/><rect x="311.40" y="313.10" width="197.10" height="251.20" fill="none" stroke="#151515" stroke-width="1.6"/><path d="M311.40 530.81h3.8M311.40 497.31h3.8M311.40 463.82h3.8M311.40 430.33h3.8M311.40 396.83h3.8M311.40 363.34h3.8M311.40 329.85h3.8M311.40 547.55h2.2M311.40 514.06h2.2M311.40 480.57h2.2M311.40 447.07h2.2M311.40 413.58h2.2M311.40 380.09h2.2M311.40 346.59h2.2M323.20 564.30v-3.8M346.30 564.30v-3.8M369.40 564.30v-3.8M392.50 564.30v-3.8M415.60 564.30v-3.8M438.70 564.30v-3.8M461.80 564.30v-3.8M484.90 564.30v-3.8M334.75 564.30v-2.2M357.85 564.30v-2.2M380.95 564.30v-2.2M404.05 564.30v-2.2M427.15 564.30v-2.2M450.25 564.30v-2.2M473.35 564.30v-2.2M496.45 564.30v-2.2" stroke="#151515" stroke-width="1.2" fill="none"/><text transform="translate(308.00 566.30) scale(0.92 1)" class="tlr" text-anchor="end">0</text><text transform="translate(308.00 532.81) scale(0.92 1)" class="tlr" text-anchor="end">500</text><text transform="translate(308.00 499.31) scale(0.92 1)" class="tlr" text-anchor="end">1000</text><text transform="translate(308.00 465.82) scale(0.92 1)" class="tlr" text-anchor="end">1500</text><text transform="translate(308.00 432.33) scale(0.92 1)" class="tlr" text-anchor="end">2000</text><text transform="translate(308.00 398.83) scale(0.92 1)" class="tlr" text-anchor="end">2500</text><text transform="translate(308.00 365.34) scale(0.92 1)" class="tlr" text-anchor="end">3000</text><text transform="translate(308.00 331.85) scale(0.92 1)" class="tlr" text-anchor="end">3500</text><text transform="translate(323.20 575.30) scale(0.92 1)" class="tl" text-anchor="middle">0.00</text><text transform="translate(346.30 575.30) scale(0.92 1)" class="tl" text-anchor="middle">0.02</text><text transform="translate(369.40 575.30) scale(0.92 1)" class="tl" text-anchor="middle">0.04</text><text transform="translate(392.50 575.30) scale(0.92 1)" class="tl" text-anchor="middle">0.06</text><text transform="translate(415.60 575.30) scale(0.92 1)" class="tl" text-anchor="middle">0.08</text><text transform="translate(438.70 575.30) scale(0.92 1)" class="tl" text-anchor="middle">0.10</text><text transform="translate(461.80 575.30) scale(0.92 1)" class="tl" text-anchor="middle">0.12</text><text transform="translate(484.90 575.30) scale(0.92 1)" class="tl" text-anchor="middle">0.14</text><text transform="translate(508.00 575.30) scale(0.92 1)" class="tl" text-anchor="middle">0.16</text><text x="263.80" y="313.60" class="pl" style="font-size:16px">(e)</text><text transform="translate(277.10 439.50) rotate(-90)" class="al" style="font-size:15px" text-anchor="middle" textLength="104.3" lengthAdjust="spacingAndGlyphs">Pressure drop(Pa)</text><text x="379.40" y="596.40" class="al" style="font-size:13.5px" textLength="59.1" lengthAdjust="spacingAndGlyphs">Ci (kg/m<tspan class="sup" dy="-6.5">3</tspan><tspan dy="6.5">)</tspan></text><rect x="475.10" y="322.00" width="7.00" height="7.00" fill="#0a0a0a"/><text x="492.30" y="328.10" class="lg">P1</text><circle cx="478.60" cy="337.60" r="4.30" fill="#f0141e"/><text x="492.30" y="340.30" class="lg">P2</text><polygon points="478.60,344.80 473.70,353.20 483.50,353.20" fill="#1428e6"/><text x="492.30" y="352.50" class="lg">P3</text><polygon points="473.70,359.50 483.50,359.50 478.60,368.30" fill="#1b7f34"/><text x="492.30" y="364.70" class="lg">P</text></g>
</svg>
</body></html>
